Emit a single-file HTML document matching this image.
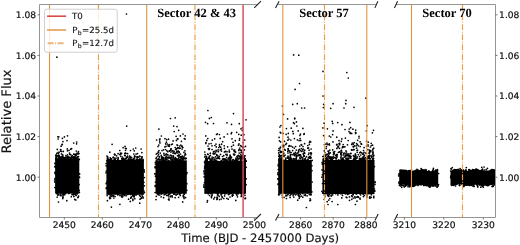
<!DOCTYPE html>
<html><head><meta charset="utf-8"><style>html,body{margin:0;padding:0;background:#fff;width:520px;height:245px;overflow:hidden}svg{display:block}text{text-rendering:geometricPrecision}</style></head>
<body><svg width="520" height="245" viewBox="0 0 520 245">
<rect width="520" height="245" fill="#fff"/>
<g fill="#000" style="filter:blur(0.3px)"><rect x="55.1" y="158.5" width="24.2" height="35.1"/><rect x="106.4" y="160" width="37.5" height="34.8"/><rect x="155.5" y="160.3" width="31.3" height="33.4"/><rect x="204.3" y="161" width="41.7" height="32.7"/><rect x="278.2" y="160" width="33.6" height="33.7"/><rect x="322.4" y="160" width="52.1" height="34"/><polygon points="399.2,169.7 400.7,169.3 402.2,169.5 403.7,169.6 405.2,169.7 406.7,169.7 408.2,170.9 409.7,170.5 411.2,171.5 412.7,170.8 414.2,170.2 415.7,170.2 417.2,169.6 418.7,170.2 420.2,169.7 421.7,169.5 423.2,169.3 424.7,169.8 426.2,170.4 427.7,170.9 429.2,170.7 430.7,171.2 432.2,170.9 433.7,170.9 435.2,169.8 436.7,169.3 438.2,169.9 438.2,184.9 436.7,185.4 435.2,186.4 433.7,186.4 432.2,186.5 430.7,186.4 429.2,187 427.7,186.5 426.2,186 424.7,186.1 423.2,185 421.7,185.4 420.2,185.5 418.7,185.1 417.2,185.6 415.7,185.7 414.2,186.9 412.7,187.2 411.2,186.8 409.7,186.7 408.2,185.8 406.7,185.8 405.2,185 403.7,184.8 402.2,184.8 400.7,185.5 399.2,186"/><polygon points="450.5,170.8 452,170.3 453.6,169.4 455.1,169 456.6,169 458.2,168.9 459.7,169.4 461.2,168.9 462.8,169.3 464.3,170.4 465.8,169.7 467.4,170.9 468.9,170.3 470.4,170.1 472,169.8 473.5,169.4 475.1,169.1 476.6,168.4 478.1,169 479.7,169.9 481.2,170 482.7,169.8 484.3,170.7 485.8,170.6 487.3,170.4 488.9,170.4 490.4,169.5 491.9,168.7 493.5,168.9 495,169.4 495,184.9 493.5,184.4 491.9,185.2 490.4,185.1 488.9,186.2 487.3,186.4 485.8,185.8 484.3,185.8 482.7,185.9 481.2,186.1 479.7,185.4 478.1,184.7 476.6,185.4 475.1,184.5 473.5,185.7 472,185.6 470.4,185.7 468.9,186.1 467.4,185.8 465.8,185.9 464.3,185.8 462.8,185.5 461.2,184.6 459.7,184.5 458.2,184.5 456.6,185 455.1,185.5 453.6,186.3 452,185.5 450.5,185.8"/><circle cx="58.6" cy="153.8" r="0.85"/><circle cx="73.4" cy="158.3" r="0.85"/><circle cx="67.1" cy="157.4" r="0.85"/><circle cx="70.7" cy="154.7" r="0.85"/><circle cx="57.7" cy="159.1" r="0.85"/><circle cx="75.1" cy="157.5" r="0.85"/><circle cx="73.3" cy="159.2" r="0.85"/><circle cx="65.9" cy="155.5" r="0.85"/><circle cx="60.9" cy="151.2" r="0.85"/><circle cx="76.6" cy="159.1" r="0.85"/><circle cx="56.1" cy="156.9" r="0.85"/><circle cx="77.5" cy="157.8" r="0.85"/><circle cx="60.6" cy="157.6" r="0.85"/><circle cx="56.2" cy="158.5" r="0.85"/><circle cx="65.7" cy="157.2" r="0.85"/><circle cx="61" cy="158.4" r="0.85"/><circle cx="60.6" cy="157.4" r="0.85"/><circle cx="62.3" cy="159.1" r="0.85"/><circle cx="75.1" cy="156.8" r="0.85"/><circle cx="70.5" cy="158.6" r="0.85"/><circle cx="78.7" cy="153.6" r="0.85"/><circle cx="58.3" cy="158" r="0.85"/><circle cx="72.4" cy="155.6" r="0.85"/><circle cx="77.4" cy="157.6" r="0.85"/><circle cx="74.9" cy="156" r="0.85"/><circle cx="62.6" cy="156.6" r="0.85"/><circle cx="76.2" cy="153.8" r="0.85"/><circle cx="67.3" cy="156.6" r="0.85"/><circle cx="56.3" cy="158.4" r="0.85"/><circle cx="74.2" cy="157.6" r="0.85"/><circle cx="59.5" cy="156.9" r="0.85"/><circle cx="72" cy="155.9" r="0.85"/><circle cx="64.3" cy="157.5" r="0.85"/><circle cx="67.4" cy="154.8" r="0.85"/><circle cx="67.7" cy="157.7" r="0.85"/><circle cx="67" cy="159.1" r="0.85"/><circle cx="56.5" cy="155.7" r="0.85"/><circle cx="78.5" cy="156.6" r="0.85"/><circle cx="64.7" cy="158.6" r="0.85"/><circle cx="67.3" cy="148.9" r="0.85"/><circle cx="73.5" cy="156.9" r="0.85"/><circle cx="75.6" cy="158.4" r="0.85"/><circle cx="67.5" cy="150.8" r="0.85"/><circle cx="69" cy="157.4" r="0.85"/><circle cx="61.8" cy="156.9" r="0.85"/><circle cx="77.9" cy="159.2" r="0.85"/><circle cx="73.8" cy="154.2" r="0.85"/><circle cx="76.2" cy="155.3" r="0.85"/><circle cx="74.4" cy="157.1" r="0.85"/><circle cx="68.6" cy="157.6" r="0.85"/><circle cx="56.8" cy="153.4" r="0.85"/><circle cx="68.8" cy="158.5" r="0.85"/><circle cx="67.3" cy="157.3" r="0.85"/><circle cx="63.8" cy="157.9" r="0.85"/><circle cx="68.1" cy="156.3" r="0.85"/><circle cx="69.8" cy="157.4" r="0.85"/><circle cx="56.2" cy="158.4" r="0.85"/><circle cx="59.6" cy="156.6" r="0.85"/><circle cx="75.6" cy="154.6" r="0.85"/><circle cx="74.2" cy="154.3" r="0.85"/><circle cx="61.5" cy="153.9" r="0.85"/><circle cx="71.3" cy="158.9" r="0.85"/><circle cx="55.9" cy="159.2" r="0.85"/><circle cx="73.2" cy="158.4" r="0.85"/><circle cx="58.1" cy="156.3" r="0.85"/><circle cx="63.6" cy="159" r="0.85"/><circle cx="59.2" cy="157" r="0.85"/><circle cx="59.4" cy="158.3" r="0.85"/><circle cx="72.2" cy="157.4" r="0.85"/><circle cx="63" cy="157.3" r="0.85"/><circle cx="56.1" cy="157.8" r="0.85"/><circle cx="65.3" cy="158.6" r="0.85"/><circle cx="58" cy="152.7" r="0.85"/><circle cx="67.4" cy="158.5" r="0.85"/><circle cx="69.7" cy="154.3" r="0.85"/><circle cx="56" cy="159.1" r="0.85"/><circle cx="58.9" cy="155.5" r="0.85"/><circle cx="59.2" cy="155.6" r="0.85"/><circle cx="71.4" cy="156.9" r="0.85"/><circle cx="60.7" cy="149.5" r="0.85"/><circle cx="74.2" cy="194.5" r="0.85"/><circle cx="60.7" cy="195.1" r="0.85"/><circle cx="64.7" cy="194.7" r="0.85"/><circle cx="63" cy="195" r="0.85"/><circle cx="56.9" cy="193.7" r="0.85"/><circle cx="78.1" cy="197.3" r="0.85"/><circle cx="62.7" cy="197" r="0.85"/><circle cx="62.8" cy="198.6" r="0.85"/><circle cx="72.9" cy="194.1" r="0.85"/><circle cx="61.4" cy="192.9" r="0.85"/><circle cx="76.1" cy="193" r="0.85"/><circle cx="74.7" cy="199.4" r="0.85"/><circle cx="68.8" cy="193.3" r="0.85"/><circle cx="75.8" cy="199.9" r="0.85"/><circle cx="72" cy="194.4" r="0.85"/><circle cx="64.3" cy="193.8" r="0.85"/><circle cx="60.3" cy="195.3" r="0.85"/><circle cx="65.6" cy="193.4" r="0.85"/><circle cx="57.9" cy="195.2" r="0.85"/><circle cx="62.4" cy="194.4" r="0.85"/><circle cx="63.1" cy="197.2" r="0.85"/><circle cx="76.6" cy="192.9" r="0.85"/><circle cx="60.2" cy="193.8" r="0.85"/><circle cx="78.6" cy="196.1" r="0.85"/><circle cx="63.4" cy="193.4" r="0.85"/><circle cx="71.3" cy="196.7" r="0.85"/><circle cx="77.3" cy="193.8" r="0.85"/><circle cx="76.1" cy="195.4" r="0.85"/><circle cx="66.8" cy="200.7" r="0.85"/><circle cx="61" cy="195.7" r="0.85"/><circle cx="57.5" cy="193.3" r="0.85"/><circle cx="76.8" cy="193.4" r="0.85"/><circle cx="73.3" cy="194.9" r="0.85"/><circle cx="75.2" cy="193.9" r="0.85"/><circle cx="63.5" cy="193.6" r="0.85"/><circle cx="75.8" cy="194.9" r="0.85"/><circle cx="77.8" cy="197.5" r="0.85"/><circle cx="58.7" cy="194.6" r="0.85"/><circle cx="57.9" cy="193" r="0.85"/><circle cx="57.2" cy="197.1" r="0.85"/><circle cx="73.9" cy="196.6" r="0.85"/><circle cx="63.5" cy="194.9" r="0.85"/><circle cx="73.8" cy="193.9" r="0.85"/><circle cx="68.9" cy="193.4" r="0.85"/><circle cx="57.4" cy="193.6" r="0.85"/><circle cx="76.3" cy="151" r="0.85"/><circle cx="77.1" cy="153" r="0.85"/><circle cx="62" cy="144.6" r="0.85"/><circle cx="74.9" cy="158.4" r="0.85"/><circle cx="71.2" cy="157.6" r="0.85"/><circle cx="58.2" cy="139" r="0.85"/><circle cx="56.4" cy="156" r="0.85"/><circle cx="78.6" cy="153.6" r="0.85"/><circle cx="58.2" cy="156.9" r="0.85"/><circle cx="61.1" cy="146.2" r="0.85"/><circle cx="57.9" cy="136.8" r="0.85"/><circle cx="64.4" cy="136.9" r="0.85"/><circle cx="62.4" cy="155.9" r="0.85"/><circle cx="66.7" cy="157.6" r="0.85"/><circle cx="70.8" cy="158.1" r="0.85"/><circle cx="55.7" cy="155.3" r="0.85"/><circle cx="69.5" cy="153.1" r="0.85"/><circle cx="62.8" cy="157.9" r="0.85"/><circle cx="76.9" cy="157.4" r="0.85"/><circle cx="60.5" cy="149.8" r="0.85"/><circle cx="78.4" cy="151.5" r="0.85"/><circle cx="71.6" cy="148.7" r="0.85"/><circle cx="61.6" cy="151.5" r="0.85"/><circle cx="62.7" cy="156" r="0.85"/><circle cx="57.4" cy="155.5" r="0.85"/><circle cx="78.5" cy="153.2" r="0.85"/><circle cx="70.8" cy="149.2" r="0.85"/><circle cx="77.5" cy="154" r="0.85"/><circle cx="62.7" cy="154.9" r="0.85"/><circle cx="62.9" cy="141.6" r="0.85"/><circle cx="76.4" cy="155.3" r="0.85"/><circle cx="63.3" cy="151.4" r="0.85"/><circle cx="69" cy="150.3" r="0.85"/><circle cx="61.2" cy="158.3" r="0.85"/><circle cx="61.2" cy="157.8" r="0.85"/><circle cx="68.4" cy="157.8" r="0.85"/><circle cx="57.3" cy="149.4" r="0.85"/><circle cx="62.3" cy="144.4" r="0.85"/><circle cx="67" cy="140.6" r="0.85"/><circle cx="59.1" cy="152.2" r="0.85"/><circle cx="74.1" cy="157.8" r="0.85"/><circle cx="77.7" cy="156.8" r="0.85"/><circle cx="73.7" cy="143" r="0.85"/><circle cx="63" cy="157.5" r="0.85"/><circle cx="67.5" cy="135.8" r="0.85"/><circle cx="62.4" cy="138.3" r="0.85"/><circle cx="58.8" cy="136.8" r="0.85"/><circle cx="56.2" cy="155.1" r="0.85"/><circle cx="76.6" cy="143.8" r="0.85"/><circle cx="76.7" cy="142" r="0.85"/><circle cx="79.1" cy="184.7" r="0.85"/><circle cx="55.2" cy="173.7" r="0.85"/><circle cx="54.7" cy="181.9" r="0.85"/><circle cx="79.4" cy="192.3" r="0.85"/><circle cx="79.4" cy="177.5" r="0.85"/><circle cx="54.8" cy="172.4" r="0.85"/><circle cx="79.3" cy="159.4" r="0.85"/><circle cx="54.9" cy="178.5" r="0.85"/><circle cx="54.8" cy="163.4" r="0.85"/><circle cx="54.9" cy="187.6" r="0.85"/><circle cx="54.6" cy="180" r="0.85"/><circle cx="79.5" cy="177.1" r="0.85"/><circle cx="79.6" cy="173.9" r="0.85"/><circle cx="55" cy="166.9" r="0.85"/><circle cx="55" cy="166.4" r="0.85"/><circle cx="79.2" cy="190.3" r="0.85"/><circle cx="141.9" cy="152.6" r="0.85"/><circle cx="108.9" cy="160.4" r="0.85"/><circle cx="137.5" cy="156.8" r="0.85"/><circle cx="131.4" cy="159.6" r="0.85"/><circle cx="129" cy="158" r="0.85"/><circle cx="128.1" cy="160.2" r="0.85"/><circle cx="122.6" cy="159.2" r="0.85"/><circle cx="133.3" cy="149" r="0.85"/><circle cx="141.6" cy="158.4" r="0.85"/><circle cx="123.1" cy="159.8" r="0.85"/><circle cx="108.1" cy="160.6" r="0.85"/><circle cx="123.9" cy="159.6" r="0.85"/><circle cx="120.7" cy="154.4" r="0.85"/><circle cx="126.1" cy="158.3" r="0.85"/><circle cx="115.5" cy="160.6" r="0.85"/><circle cx="118.7" cy="160.3" r="0.85"/><circle cx="125.5" cy="148.3" r="0.85"/><circle cx="131.6" cy="160.1" r="0.85"/><circle cx="139.6" cy="156.1" r="0.85"/><circle cx="133.8" cy="154" r="0.85"/><circle cx="134.8" cy="156.2" r="0.85"/><circle cx="119.8" cy="150.5" r="0.85"/><circle cx="142.1" cy="160.2" r="0.85"/><circle cx="134.5" cy="157" r="0.85"/><circle cx="123.7" cy="158.5" r="0.85"/><circle cx="124.8" cy="153.4" r="0.85"/><circle cx="125.2" cy="155.6" r="0.85"/><circle cx="119.8" cy="154.6" r="0.85"/><circle cx="139.8" cy="158.9" r="0.85"/><circle cx="127.6" cy="153.6" r="0.85"/><circle cx="133.4" cy="158.7" r="0.85"/><circle cx="114.9" cy="159.5" r="0.85"/><circle cx="132.5" cy="160.2" r="0.85"/><circle cx="140.1" cy="159.8" r="0.85"/><circle cx="140.2" cy="159.6" r="0.85"/><circle cx="141.9" cy="157.1" r="0.85"/><circle cx="125.3" cy="158.6" r="0.85"/><circle cx="130.7" cy="158.1" r="0.85"/><circle cx="118.2" cy="160" r="0.85"/><circle cx="125.6" cy="153.1" r="0.85"/><circle cx="129.7" cy="160.5" r="0.85"/><circle cx="136.9" cy="156.9" r="0.85"/><circle cx="140.1" cy="160.1" r="0.85"/><circle cx="134.1" cy="160.5" r="0.85"/><circle cx="130.8" cy="159.8" r="0.85"/><circle cx="115.1" cy="154.8" r="0.85"/><circle cx="110.7" cy="158.5" r="0.85"/><circle cx="138.1" cy="159.9" r="0.85"/><circle cx="114.5" cy="154.6" r="0.85"/><circle cx="122.3" cy="157" r="0.85"/><circle cx="108" cy="159.4" r="0.85"/><circle cx="113.1" cy="157.4" r="0.85"/><circle cx="109.8" cy="152.2" r="0.85"/><circle cx="107.7" cy="156.9" r="0.85"/><circle cx="107.6" cy="159.8" r="0.85"/><circle cx="136.7" cy="160.2" r="0.85"/><circle cx="113.5" cy="157.3" r="0.85"/><circle cx="121" cy="160.6" r="0.85"/><circle cx="143.1" cy="160.2" r="0.85"/><circle cx="108.1" cy="159.5" r="0.85"/><circle cx="129.4" cy="156.8" r="0.85"/><circle cx="111" cy="159.5" r="0.85"/><circle cx="107.9" cy="159" r="0.85"/><circle cx="134.9" cy="156.8" r="0.85"/><circle cx="139.9" cy="156.6" r="0.85"/><circle cx="138.5" cy="157.1" r="0.85"/><circle cx="124.2" cy="159.9" r="0.85"/><circle cx="131.1" cy="159.6" r="0.85"/><circle cx="110.5" cy="159" r="0.85"/><circle cx="138.9" cy="160.3" r="0.85"/><circle cx="128.3" cy="159.2" r="0.85"/><circle cx="125.7" cy="160.2" r="0.85"/><circle cx="142" cy="159.8" r="0.85"/><circle cx="129" cy="159.1" r="0.85"/><circle cx="107.5" cy="158.3" r="0.85"/><circle cx="112" cy="160.5" r="0.85"/><circle cx="108" cy="160.2" r="0.85"/><circle cx="110.3" cy="157.8" r="0.85"/><circle cx="125.5" cy="150.3" r="0.85"/><circle cx="141.1" cy="149" r="0.85"/><circle cx="115.3" cy="159" r="0.85"/><circle cx="116" cy="158.1" r="0.85"/><circle cx="129.7" cy="156" r="0.85"/><circle cx="132.8" cy="159.8" r="0.85"/><circle cx="122.3" cy="158.5" r="0.85"/><circle cx="107" cy="160.6" r="0.85"/><circle cx="121.8" cy="160.4" r="0.85"/><circle cx="133.4" cy="159.9" r="0.85"/><circle cx="110.5" cy="160.1" r="0.85"/><circle cx="115.3" cy="160" r="0.85"/><circle cx="125.9" cy="158.9" r="0.85"/><circle cx="118.2" cy="157.7" r="0.85"/><circle cx="114.6" cy="154" r="0.85"/><circle cx="142.1" cy="156.9" r="0.85"/><circle cx="122.7" cy="158.6" r="0.85"/><circle cx="128.1" cy="160.5" r="0.85"/><circle cx="122.1" cy="158.5" r="0.85"/><circle cx="113.5" cy="160.4" r="0.85"/><circle cx="136.3" cy="159.4" r="0.85"/><circle cx="125.9" cy="153.6" r="0.85"/><circle cx="129.2" cy="159.7" r="0.85"/><circle cx="142.9" cy="159.3" r="0.85"/><circle cx="107.5" cy="157.3" r="0.85"/><circle cx="110.5" cy="159.6" r="0.85"/><circle cx="137.7" cy="157.4" r="0.85"/><circle cx="107.4" cy="158.9" r="0.85"/><circle cx="121.9" cy="158.7" r="0.85"/><circle cx="114.4" cy="158.1" r="0.85"/><circle cx="109.5" cy="159.7" r="0.85"/><circle cx="120.5" cy="153.1" r="0.85"/><circle cx="109.6" cy="197.5" r="0.85"/><circle cx="113.9" cy="196.2" r="0.85"/><circle cx="121.2" cy="195.6" r="0.85"/><circle cx="134.5" cy="195.3" r="0.85"/><circle cx="111.3" cy="194.4" r="0.85"/><circle cx="109.8" cy="198.6" r="0.85"/><circle cx="130.3" cy="201.4" r="0.85"/><circle cx="132.2" cy="194.2" r="0.85"/><circle cx="131" cy="197.7" r="0.85"/><circle cx="133.4" cy="195.8" r="0.85"/><circle cx="119.9" cy="195.6" r="0.85"/><circle cx="136.1" cy="194.9" r="0.85"/><circle cx="126.1" cy="195.7" r="0.85"/><circle cx="141.8" cy="198" r="0.85"/><circle cx="141" cy="198.4" r="0.85"/><circle cx="117.7" cy="194.7" r="0.85"/><circle cx="124.7" cy="194.8" r="0.85"/><circle cx="122.5" cy="196.9" r="0.85"/><circle cx="140.5" cy="196.3" r="0.85"/><circle cx="136.8" cy="194.3" r="0.85"/><circle cx="119.9" cy="204.3" r="0.85"/><circle cx="112.2" cy="195.4" r="0.85"/><circle cx="109.3" cy="194.3" r="0.85"/><circle cx="139.7" cy="203.2" r="0.85"/><circle cx="130.6" cy="194.4" r="0.85"/><circle cx="117.7" cy="194.7" r="0.85"/><circle cx="131.4" cy="196.9" r="0.85"/><circle cx="122.9" cy="195.9" r="0.85"/><circle cx="110.9" cy="196" r="0.85"/><circle cx="141.7" cy="197.5" r="0.85"/><circle cx="110.3" cy="195.9" r="0.85"/><circle cx="133.1" cy="194.8" r="0.85"/><circle cx="139.6" cy="195.6" r="0.85"/><circle cx="132.6" cy="195.4" r="0.85"/><circle cx="143.3" cy="197.8" r="0.85"/><circle cx="127.8" cy="194.5" r="0.85"/><circle cx="123" cy="194.2" r="0.85"/><circle cx="128.6" cy="199.2" r="0.85"/><circle cx="113.4" cy="195.8" r="0.85"/><circle cx="124.5" cy="195.4" r="0.85"/><circle cx="132.9" cy="200.5" r="0.85"/><circle cx="132.7" cy="195.7" r="0.85"/><circle cx="142.1" cy="195.1" r="0.85"/><circle cx="134.2" cy="196.7" r="0.85"/><circle cx="134.8" cy="198.7" r="0.85"/><circle cx="115.1" cy="196.5" r="0.85"/><circle cx="121.6" cy="196.8" r="0.85"/><circle cx="142.7" cy="196.6" r="0.85"/><circle cx="107.2" cy="195.6" r="0.85"/><circle cx="132.9" cy="199.2" r="0.85"/><circle cx="130.7" cy="198.2" r="0.85"/><circle cx="107.4" cy="200.7" r="0.85"/><circle cx="133.6" cy="196.4" r="0.85"/><circle cx="140" cy="199.2" r="0.85"/><circle cx="110.5" cy="198.2" r="0.85"/><circle cx="134.9" cy="194.6" r="0.85"/><circle cx="134.1" cy="196.3" r="0.85"/><circle cx="113.8" cy="198" r="0.85"/><circle cx="111.9" cy="196.4" r="0.85"/><circle cx="122.7" cy="194.8" r="0.85"/><circle cx="127.6" cy="156.2" r="0.85"/><circle cx="114.3" cy="159.5" r="0.85"/><circle cx="106.9" cy="156" r="0.85"/><circle cx="137.5" cy="153.6" r="0.85"/><circle cx="134.5" cy="156" r="0.85"/><circle cx="131.6" cy="157.6" r="0.85"/><circle cx="116.6" cy="155.8" r="0.85"/><circle cx="107.8" cy="159.5" r="0.85"/><circle cx="134.5" cy="158.9" r="0.85"/><circle cx="134.3" cy="150.8" r="0.85"/><circle cx="121.6" cy="153.3" r="0.85"/><circle cx="135.7" cy="148" r="0.85"/><circle cx="111.7" cy="158.9" r="0.85"/><circle cx="120.8" cy="156.3" r="0.85"/><circle cx="117.6" cy="159.9" r="0.85"/><circle cx="127.3" cy="157.3" r="0.85"/><circle cx="126.5" cy="157.1" r="0.85"/><circle cx="123.1" cy="147.7" r="0.85"/><circle cx="118.1" cy="153.7" r="0.85"/><circle cx="124.6" cy="155.4" r="0.85"/><circle cx="140.4" cy="159.5" r="0.85"/><circle cx="137.1" cy="157.8" r="0.85"/><circle cx="130.5" cy="150.5" r="0.85"/><circle cx="130.8" cy="157" r="0.85"/><circle cx="137.7" cy="159.4" r="0.85"/><circle cx="130" cy="157" r="0.85"/><circle cx="126.3" cy="148.6" r="0.85"/><circle cx="136.1" cy="154.1" r="0.85"/><circle cx="118.1" cy="158.4" r="0.85"/><circle cx="123.6" cy="158.4" r="0.85"/><circle cx="143.7" cy="169.7" r="0.85"/><circle cx="106.2" cy="188.5" r="0.85"/><circle cx="106.3" cy="171.1" r="0.85"/><circle cx="106.1" cy="165.8" r="0.85"/><circle cx="144" cy="191.1" r="0.85"/><circle cx="143.9" cy="182.3" r="0.85"/><circle cx="106.1" cy="163.5" r="0.85"/><circle cx="106.2" cy="183.6" r="0.85"/><circle cx="106.5" cy="187.7" r="0.85"/><circle cx="106.6" cy="182" r="0.85"/><circle cx="144.3" cy="171.9" r="0.85"/><circle cx="144.4" cy="177.5" r="0.85"/><circle cx="144.3" cy="185.8" r="0.85"/><circle cx="144.4" cy="192.6" r="0.85"/><circle cx="144.1" cy="170.1" r="0.85"/><circle cx="106" cy="172.8" r="0.85"/><circle cx="163.2" cy="157.9" r="0.85"/><circle cx="167.2" cy="157.4" r="0.85"/><circle cx="175" cy="160.7" r="0.85"/><circle cx="156.3" cy="154" r="0.85"/><circle cx="163.8" cy="160" r="0.85"/><circle cx="186.3" cy="158.5" r="0.85"/><circle cx="181.4" cy="158.5" r="0.85"/><circle cx="175.4" cy="160.4" r="0.85"/><circle cx="175.3" cy="153.3" r="0.85"/><circle cx="171.9" cy="155.8" r="0.85"/><circle cx="176.4" cy="160.7" r="0.85"/><circle cx="179" cy="157.5" r="0.85"/><circle cx="165.1" cy="160.9" r="0.85"/><circle cx="182.3" cy="158.5" r="0.85"/><circle cx="177.8" cy="153" r="0.85"/><circle cx="177.7" cy="151.5" r="0.85"/><circle cx="167.9" cy="154.8" r="0.85"/><circle cx="169.5" cy="150.8" r="0.85"/><circle cx="182.7" cy="160.6" r="0.85"/><circle cx="160" cy="160" r="0.85"/><circle cx="185.3" cy="158.8" r="0.85"/><circle cx="175" cy="159.6" r="0.85"/><circle cx="171.4" cy="159.1" r="0.85"/><circle cx="166.6" cy="157.6" r="0.85"/><circle cx="173.7" cy="152.1" r="0.85"/><circle cx="176.7" cy="151.1" r="0.85"/><circle cx="182" cy="146.1" r="0.85"/><circle cx="176.4" cy="160.3" r="0.85"/><circle cx="182.1" cy="149" r="0.85"/><circle cx="183.5" cy="157.7" r="0.85"/><circle cx="177.7" cy="160.1" r="0.85"/><circle cx="181.3" cy="157.7" r="0.85"/><circle cx="164.6" cy="160.7" r="0.85"/><circle cx="181.9" cy="146.3" r="0.85"/><circle cx="158.6" cy="154.8" r="0.85"/><circle cx="168.4" cy="160.4" r="0.85"/><circle cx="164.9" cy="155.3" r="0.85"/><circle cx="182.5" cy="160.8" r="0.85"/><circle cx="174.6" cy="160.8" r="0.85"/><circle cx="177.8" cy="159.4" r="0.85"/><circle cx="182.8" cy="147.5" r="0.85"/><circle cx="171.3" cy="144.6" r="0.85"/><circle cx="165.3" cy="160.7" r="0.85"/><circle cx="174.2" cy="160.9" r="0.85"/><circle cx="161.9" cy="158.9" r="0.85"/><circle cx="174.5" cy="160.3" r="0.85"/><circle cx="157.2" cy="153.3" r="0.85"/><circle cx="165.5" cy="149.5" r="0.85"/><circle cx="183.2" cy="159.1" r="0.85"/><circle cx="169.9" cy="158.1" r="0.85"/><circle cx="175.5" cy="157.5" r="0.85"/><circle cx="173" cy="157.2" r="0.85"/><circle cx="184.6" cy="158.2" r="0.85"/><circle cx="169.1" cy="156.1" r="0.85"/><circle cx="163.1" cy="159.6" r="0.85"/><circle cx="185.7" cy="158.1" r="0.85"/><circle cx="172.6" cy="161" r="0.85"/><circle cx="168.6" cy="157.6" r="0.85"/><circle cx="156.5" cy="157.3" r="0.85"/><circle cx="175.2" cy="160.8" r="0.85"/><circle cx="175" cy="158.5" r="0.85"/><circle cx="176.6" cy="159.3" r="0.85"/><circle cx="177.5" cy="155.8" r="0.85"/><circle cx="156.6" cy="160.8" r="0.85"/><circle cx="176.5" cy="149.1" r="0.85"/><circle cx="163.6" cy="158.6" r="0.85"/><circle cx="174" cy="159.5" r="0.85"/><circle cx="167" cy="159.5" r="0.85"/><circle cx="167.2" cy="157.5" r="0.85"/><circle cx="165.1" cy="159.1" r="0.85"/><circle cx="179.5" cy="160.9" r="0.85"/><circle cx="173.3" cy="155.8" r="0.85"/><circle cx="165.4" cy="160" r="0.85"/><circle cx="180.4" cy="159.9" r="0.85"/><circle cx="161.6" cy="158.8" r="0.85"/><circle cx="177.2" cy="160.6" r="0.85"/><circle cx="165.7" cy="159.4" r="0.85"/><circle cx="181.3" cy="158.7" r="0.85"/><circle cx="182" cy="160.3" r="0.85"/><circle cx="166.2" cy="156.9" r="0.85"/><circle cx="182.9" cy="158.6" r="0.85"/><circle cx="162.8" cy="160.5" r="0.85"/><circle cx="172.1" cy="160.2" r="0.85"/><circle cx="180.5" cy="154" r="0.85"/><circle cx="161.5" cy="159.7" r="0.85"/><circle cx="180.5" cy="157" r="0.85"/><circle cx="180.5" cy="159.3" r="0.85"/><circle cx="159.9" cy="159.6" r="0.85"/><circle cx="180.1" cy="159.8" r="0.85"/><circle cx="166.5" cy="158.9" r="0.85"/><circle cx="168.7" cy="194.3" r="0.85"/><circle cx="184" cy="193.4" r="0.85"/><circle cx="156" cy="199.6" r="0.85"/><circle cx="182.7" cy="201.9" r="0.85"/><circle cx="169.1" cy="199.9" r="0.85"/><circle cx="184.2" cy="193.6" r="0.85"/><circle cx="178.6" cy="197.3" r="0.85"/><circle cx="176.1" cy="194.8" r="0.85"/><circle cx="164.7" cy="194" r="0.85"/><circle cx="162.8" cy="193.2" r="0.85"/><circle cx="173.9" cy="193.8" r="0.85"/><circle cx="180.6" cy="193.1" r="0.85"/><circle cx="183.5" cy="195.9" r="0.85"/><circle cx="184.1" cy="198.4" r="0.85"/><circle cx="183.3" cy="195.1" r="0.85"/><circle cx="156.3" cy="196.3" r="0.85"/><circle cx="161.1" cy="193.9" r="0.85"/><circle cx="176.1" cy="194.8" r="0.85"/><circle cx="168.5" cy="199.5" r="0.85"/><circle cx="174.6" cy="194" r="0.85"/><circle cx="163.6" cy="197.7" r="0.85"/><circle cx="170.5" cy="196.7" r="0.85"/><circle cx="166.6" cy="193.5" r="0.85"/><circle cx="172.2" cy="197.1" r="0.85"/><circle cx="161.1" cy="196.8" r="0.85"/><circle cx="184" cy="196.9" r="0.85"/><circle cx="181" cy="193" r="0.85"/><circle cx="175.1" cy="197.7" r="0.85"/><circle cx="157.4" cy="193.8" r="0.85"/><circle cx="164.1" cy="194.8" r="0.85"/><circle cx="168.8" cy="194.6" r="0.85"/><circle cx="179.6" cy="193" r="0.85"/><circle cx="157.6" cy="193.3" r="0.85"/><circle cx="159.7" cy="193.2" r="0.85"/><circle cx="185.6" cy="197.6" r="0.85"/><circle cx="158.5" cy="194.7" r="0.85"/><circle cx="165.5" cy="193.9" r="0.85"/><circle cx="166.6" cy="195.5" r="0.85"/><circle cx="173.8" cy="194.1" r="0.85"/><circle cx="161.7" cy="194" r="0.85"/><circle cx="159.7" cy="195" r="0.85"/><circle cx="177.7" cy="194.2" r="0.85"/><circle cx="158.3" cy="193.5" r="0.85"/><circle cx="167.3" cy="195.3" r="0.85"/><circle cx="179.8" cy="194.2" r="0.85"/><circle cx="180.3" cy="195.4" r="0.85"/><circle cx="169.1" cy="194.1" r="0.85"/><circle cx="171" cy="195.9" r="0.85"/><circle cx="168.7" cy="195.9" r="0.85"/><circle cx="170" cy="193.7" r="0.85"/><circle cx="172.2" cy="195.9" r="0.85"/><circle cx="158.1" cy="194.4" r="0.85"/><circle cx="168.9" cy="198" r="0.85"/><circle cx="184.5" cy="194.1" r="0.85"/><circle cx="183.3" cy="196.8" r="0.85"/><circle cx="163.9" cy="153.4" r="0.85"/><circle cx="159.7" cy="141.8" r="0.85"/><circle cx="176.1" cy="136.3" r="0.85"/><circle cx="180.1" cy="148.2" r="0.85"/><circle cx="178.3" cy="151.2" r="0.85"/><circle cx="159" cy="150.6" r="0.85"/><circle cx="156" cy="158.6" r="0.85"/><circle cx="179.5" cy="159.8" r="0.85"/><circle cx="158.7" cy="159.1" r="0.85"/><circle cx="182.8" cy="158.1" r="0.85"/><circle cx="156.6" cy="140" r="0.85"/><circle cx="159.6" cy="139.9" r="0.85"/><circle cx="176.4" cy="140.4" r="0.85"/><circle cx="184.9" cy="150.8" r="0.85"/><circle cx="180.3" cy="159.9" r="0.85"/><circle cx="179.3" cy="152.4" r="0.85"/><circle cx="177.7" cy="159.1" r="0.85"/><circle cx="178.7" cy="130.3" r="0.85"/><circle cx="157.8" cy="156" r="0.85"/><circle cx="173.1" cy="140.9" r="0.85"/><circle cx="163.3" cy="158.1" r="0.85"/><circle cx="163.5" cy="149.8" r="0.85"/><circle cx="178.9" cy="154.8" r="0.85"/><circle cx="167.1" cy="154.7" r="0.85"/><circle cx="166.6" cy="154.3" r="0.85"/><circle cx="158.4" cy="152.7" r="0.85"/><circle cx="185.6" cy="154.4" r="0.85"/><circle cx="178.7" cy="158.4" r="0.85"/><circle cx="177" cy="144.8" r="0.85"/><circle cx="176.5" cy="152.3" r="0.85"/><circle cx="170.7" cy="149" r="0.85"/><circle cx="183.3" cy="158.5" r="0.85"/><circle cx="158.8" cy="145.1" r="0.85"/><circle cx="183.9" cy="152.3" r="0.85"/><circle cx="169.4" cy="146.3" r="0.85"/><circle cx="161.6" cy="156.9" r="0.85"/><circle cx="162" cy="150.6" r="0.85"/><circle cx="165.5" cy="157.4" r="0.85"/><circle cx="177" cy="126.6" r="0.85"/><circle cx="164.9" cy="146.9" r="0.85"/><circle cx="168.5" cy="139.2" r="0.85"/><circle cx="173.7" cy="156.9" r="0.85"/><circle cx="162.5" cy="160" r="0.85"/><circle cx="170.5" cy="155" r="0.85"/><circle cx="161.2" cy="155.4" r="0.85"/><circle cx="165.7" cy="143.9" r="0.85"/><circle cx="160.3" cy="153.1" r="0.85"/><circle cx="174.2" cy="153.4" r="0.85"/><circle cx="181.4" cy="141.3" r="0.85"/><circle cx="172.9" cy="153.1" r="0.85"/><circle cx="177.9" cy="138.9" r="0.85"/><circle cx="168.1" cy="145.8" r="0.85"/><circle cx="185.2" cy="153.4" r="0.85"/><circle cx="162.9" cy="157.4" r="0.85"/><circle cx="177.8" cy="147.9" r="0.85"/><circle cx="185.1" cy="139.1" r="0.85"/><circle cx="163.3" cy="158" r="0.85"/><circle cx="163.8" cy="158" r="0.85"/><circle cx="177.4" cy="138.8" r="0.85"/><circle cx="183.3" cy="157.1" r="0.85"/><circle cx="182.3" cy="156.2" r="0.85"/><circle cx="168.8" cy="145.9" r="0.85"/><circle cx="158.5" cy="159.2" r="0.85"/><circle cx="181.3" cy="156.5" r="0.85"/><circle cx="166.8" cy="150.7" r="0.85"/><circle cx="176.5" cy="160.2" r="0.85"/><circle cx="166.1" cy="154" r="0.85"/><circle cx="170.7" cy="157.7" r="0.85"/><circle cx="173.7" cy="126.1" r="0.85"/><circle cx="167.8" cy="151.7" r="0.85"/><circle cx="159.5" cy="156.8" r="0.85"/><circle cx="176.2" cy="159" r="0.85"/><circle cx="183" cy="134" r="0.85"/><circle cx="158.9" cy="129.1" r="0.85"/><circle cx="167.3" cy="144" r="0.85"/><circle cx="179" cy="156.4" r="0.85"/><circle cx="176.5" cy="148.6" r="0.85"/><circle cx="180.5" cy="156.9" r="0.85"/><circle cx="178.9" cy="148" r="0.85"/><circle cx="172.3" cy="159" r="0.85"/><circle cx="171" cy="155.5" r="0.85"/><circle cx="177.8" cy="147.8" r="0.85"/><circle cx="173.2" cy="158.1" r="0.85"/><circle cx="175.6" cy="149.3" r="0.85"/><circle cx="161.4" cy="136" r="0.85"/><circle cx="175.9" cy="158.9" r="0.85"/><circle cx="184.3" cy="158.6" r="0.85"/><circle cx="166" cy="146.3" r="0.85"/><circle cx="174.1" cy="151.4" r="0.85"/><circle cx="175.6" cy="153.6" r="0.85"/><circle cx="165.4" cy="158.2" r="0.85"/><circle cx="158" cy="146.5" r="0.85"/><circle cx="178.9" cy="151.7" r="0.85"/><circle cx="178.5" cy="155.4" r="0.85"/><circle cx="164" cy="155" r="0.85"/><circle cx="182.5" cy="159.8" r="0.85"/><circle cx="171.3" cy="157.2" r="0.85"/><circle cx="179.4" cy="155.5" r="0.85"/><circle cx="166.1" cy="154.6" r="0.85"/><circle cx="172.4" cy="144.1" r="0.85"/><circle cx="166.7" cy="139.7" r="0.85"/><circle cx="159.3" cy="156.8" r="0.85"/><circle cx="158.9" cy="159" r="0.85"/><circle cx="179.7" cy="146" r="0.85"/><circle cx="161.5" cy="158" r="0.85"/><circle cx="168.6" cy="145.3" r="0.85"/><circle cx="180.8" cy="145.1" r="0.85"/><circle cx="174" cy="158.6" r="0.85"/><circle cx="168.1" cy="157.9" r="0.85"/><circle cx="172" cy="151.1" r="0.85"/><circle cx="162.1" cy="157.1" r="0.85"/><circle cx="179.7" cy="160" r="0.85"/><circle cx="180.4" cy="135.9" r="0.85"/><circle cx="184.9" cy="155" r="0.85"/><circle cx="172.8" cy="150.7" r="0.85"/><circle cx="175.2" cy="147.5" r="0.85"/><circle cx="165" cy="138.7" r="0.85"/><circle cx="170.7" cy="150.2" r="0.85"/><circle cx="178.1" cy="160.3" r="0.85"/><circle cx="179.4" cy="148.4" r="0.85"/><circle cx="170.9" cy="152.1" r="0.85"/><circle cx="169.9" cy="157.9" r="0.85"/><circle cx="172.1" cy="159.9" r="0.85"/><circle cx="171.2" cy="148.9" r="0.85"/><circle cx="169.4" cy="151.1" r="0.85"/><circle cx="185.2" cy="135.8" r="0.85"/><circle cx="160" cy="143" r="0.85"/><circle cx="174.9" cy="159.7" r="0.85"/><circle cx="166.9" cy="157.4" r="0.85"/><circle cx="158.3" cy="151.8" r="0.85"/><circle cx="184.3" cy="156" r="0.85"/><circle cx="182.5" cy="147.3" r="0.85"/><circle cx="160" cy="138.8" r="0.85"/><circle cx="174.2" cy="131.5" r="0.85"/><circle cx="177.7" cy="145.5" r="0.85"/><circle cx="166.4" cy="142.2" r="0.85"/><circle cx="184.3" cy="138.6" r="0.85"/><circle cx="169.2" cy="144.7" r="0.85"/><circle cx="170.7" cy="159" r="0.85"/><circle cx="157.2" cy="159.4" r="0.85"/><circle cx="155.4" cy="167" r="0.85"/><circle cx="186.8" cy="183.7" r="0.85"/><circle cx="155.4" cy="182" r="0.85"/><circle cx="155.1" cy="185.6" r="0.85"/><circle cx="186.8" cy="190.3" r="0.85"/><circle cx="187" cy="172.7" r="0.85"/><circle cx="155.2" cy="167.8" r="0.85"/><circle cx="155.4" cy="186.5" r="0.85"/><circle cx="155.1" cy="166.8" r="0.85"/><circle cx="155" cy="173.8" r="0.85"/><circle cx="155.4" cy="164" r="0.85"/><circle cx="155.4" cy="162.3" r="0.85"/><circle cx="186.5" cy="173.9" r="0.85"/><circle cx="155" cy="173.8" r="0.85"/><circle cx="155.1" cy="192.5" r="0.85"/><circle cx="155.5" cy="176.2" r="0.85"/><circle cx="214.4" cy="161.3" r="0.85"/><circle cx="220.9" cy="161" r="0.85"/><circle cx="207.4" cy="159.7" r="0.85"/><circle cx="242.2" cy="155.5" r="0.85"/><circle cx="236" cy="160.7" r="0.85"/><circle cx="226.7" cy="160.4" r="0.85"/><circle cx="211.8" cy="161.3" r="0.85"/><circle cx="213.5" cy="151.9" r="0.85"/><circle cx="238.6" cy="155.4" r="0.85"/><circle cx="237.4" cy="160.9" r="0.85"/><circle cx="217.4" cy="157.9" r="0.85"/><circle cx="234.6" cy="154.3" r="0.85"/><circle cx="240.7" cy="161.3" r="0.85"/><circle cx="229.5" cy="157.4" r="0.85"/><circle cx="225.4" cy="160.9" r="0.85"/><circle cx="224.1" cy="161.3" r="0.85"/><circle cx="242.9" cy="154" r="0.85"/><circle cx="227.1" cy="160.3" r="0.85"/><circle cx="241.9" cy="158.4" r="0.85"/><circle cx="240.8" cy="154.5" r="0.85"/><circle cx="225.5" cy="159.6" r="0.85"/><circle cx="229.2" cy="159.5" r="0.85"/><circle cx="211.3" cy="160.3" r="0.85"/><circle cx="237.9" cy="161.5" r="0.85"/><circle cx="206.6" cy="157.9" r="0.85"/><circle cx="216.2" cy="158.7" r="0.85"/><circle cx="224" cy="160.1" r="0.85"/><circle cx="245.5" cy="160.8" r="0.85"/><circle cx="221.6" cy="160.8" r="0.85"/><circle cx="230.6" cy="160.4" r="0.85"/><circle cx="219.3" cy="156.4" r="0.85"/><circle cx="217.8" cy="158.5" r="0.85"/><circle cx="241.7" cy="161.3" r="0.85"/><circle cx="207.2" cy="160.7" r="0.85"/><circle cx="236" cy="158" r="0.85"/><circle cx="214.4" cy="160.1" r="0.85"/><circle cx="212" cy="159.3" r="0.85"/><circle cx="206.5" cy="157.1" r="0.85"/><circle cx="241.3" cy="150.4" r="0.85"/><circle cx="234.8" cy="150.1" r="0.85"/><circle cx="205.4" cy="160.4" r="0.85"/><circle cx="244.2" cy="155.9" r="0.85"/><circle cx="221.5" cy="151.1" r="0.85"/><circle cx="230.1" cy="155.1" r="0.85"/><circle cx="216.7" cy="160.9" r="0.85"/><circle cx="222.9" cy="161.1" r="0.85"/><circle cx="220.3" cy="149.9" r="0.85"/><circle cx="218.3" cy="161.7" r="0.85"/><circle cx="206.5" cy="161" r="0.85"/><circle cx="236.8" cy="159.9" r="0.85"/><circle cx="216.6" cy="161.3" r="0.85"/><circle cx="244.9" cy="159.5" r="0.85"/><circle cx="213.2" cy="161.5" r="0.85"/><circle cx="207" cy="161" r="0.85"/><circle cx="232.4" cy="161.1" r="0.85"/><circle cx="206.4" cy="159.1" r="0.85"/><circle cx="214.9" cy="145.5" r="0.85"/><circle cx="209.7" cy="158.8" r="0.85"/><circle cx="236.3" cy="159.6" r="0.85"/><circle cx="245.1" cy="159.2" r="0.85"/><circle cx="214.6" cy="159.6" r="0.85"/><circle cx="206.2" cy="159.6" r="0.85"/><circle cx="214.9" cy="153.4" r="0.85"/><circle cx="238.7" cy="159" r="0.85"/><circle cx="206" cy="160.5" r="0.85"/><circle cx="214.6" cy="160.8" r="0.85"/><circle cx="214.2" cy="153.9" r="0.85"/><circle cx="210.5" cy="161.5" r="0.85"/><circle cx="242.7" cy="158.4" r="0.85"/><circle cx="245.2" cy="159.7" r="0.85"/><circle cx="241.5" cy="157.6" r="0.85"/><circle cx="237" cy="156.4" r="0.85"/><circle cx="224.9" cy="161.3" r="0.85"/><circle cx="213.3" cy="153.8" r="0.85"/><circle cx="241.5" cy="152" r="0.85"/><circle cx="218.5" cy="157.5" r="0.85"/><circle cx="237.4" cy="157.7" r="0.85"/><circle cx="238" cy="158.8" r="0.85"/><circle cx="231.5" cy="157.2" r="0.85"/><circle cx="215.7" cy="152.1" r="0.85"/><circle cx="243.8" cy="161.4" r="0.85"/><circle cx="244.4" cy="149.9" r="0.85"/><circle cx="232" cy="161.5" r="0.85"/><circle cx="241.5" cy="161.2" r="0.85"/><circle cx="244.3" cy="157.4" r="0.85"/><circle cx="207.2" cy="161" r="0.85"/><circle cx="230.7" cy="158.4" r="0.85"/><circle cx="235.2" cy="151.9" r="0.85"/><circle cx="213.6" cy="161.7" r="0.85"/><circle cx="242.4" cy="161.6" r="0.85"/><circle cx="240.5" cy="161.2" r="0.85"/><circle cx="237.8" cy="155.8" r="0.85"/><circle cx="240.6" cy="158.6" r="0.85"/><circle cx="240.6" cy="160.8" r="0.85"/><circle cx="232.2" cy="160.1" r="0.85"/><circle cx="241.2" cy="156" r="0.85"/><circle cx="224" cy="158.8" r="0.85"/><circle cx="205.8" cy="161.6" r="0.85"/><circle cx="229" cy="159.1" r="0.85"/><circle cx="240.1" cy="158" r="0.85"/><circle cx="210.4" cy="159.9" r="0.85"/><circle cx="236.1" cy="158.8" r="0.85"/><circle cx="205.1" cy="154.7" r="0.85"/><circle cx="238.5" cy="161.3" r="0.85"/><circle cx="226.9" cy="159.8" r="0.85"/><circle cx="236.9" cy="160.2" r="0.85"/><circle cx="214.3" cy="159.1" r="0.85"/><circle cx="244.2" cy="161.3" r="0.85"/><circle cx="209.4" cy="157.9" r="0.85"/><circle cx="240.9" cy="158.9" r="0.85"/><circle cx="222.4" cy="197.5" r="0.85"/><circle cx="236.5" cy="193.2" r="0.85"/><circle cx="240.7" cy="193.5" r="0.85"/><circle cx="217.1" cy="197.2" r="0.85"/><circle cx="222" cy="196.7" r="0.85"/><circle cx="211.5" cy="197.7" r="0.85"/><circle cx="211.9" cy="193.4" r="0.85"/><circle cx="224.9" cy="194" r="0.85"/><circle cx="226.9" cy="198.3" r="0.85"/><circle cx="233.8" cy="193" r="0.85"/><circle cx="217.5" cy="194.8" r="0.85"/><circle cx="224.6" cy="195.9" r="0.85"/><circle cx="224.5" cy="193.2" r="0.85"/><circle cx="214.7" cy="197.3" r="0.85"/><circle cx="219.3" cy="196.4" r="0.85"/><circle cx="245" cy="195.3" r="0.85"/><circle cx="232.4" cy="195.2" r="0.85"/><circle cx="217.5" cy="198.5" r="0.85"/><circle cx="223.8" cy="198.5" r="0.85"/><circle cx="217.2" cy="197.6" r="0.85"/><circle cx="236.9" cy="195.2" r="0.85"/><circle cx="222.8" cy="193.4" r="0.85"/><circle cx="236.2" cy="194.1" r="0.85"/><circle cx="231.8" cy="193.3" r="0.85"/><circle cx="208.1" cy="193.4" r="0.85"/><circle cx="237.8" cy="193.5" r="0.85"/><circle cx="241.6" cy="194.1" r="0.85"/><circle cx="228.3" cy="194" r="0.85"/><circle cx="230.1" cy="193.2" r="0.85"/><circle cx="221.2" cy="199.1" r="0.85"/><circle cx="212" cy="195.5" r="0.85"/><circle cx="218.1" cy="193.8" r="0.85"/><circle cx="205.6" cy="193" r="0.85"/><circle cx="243.5" cy="197.1" r="0.85"/><circle cx="237.5" cy="196.8" r="0.85"/><circle cx="243.7" cy="193.4" r="0.85"/><circle cx="228.6" cy="194.6" r="0.85"/><circle cx="228.2" cy="199.2" r="0.85"/><circle cx="235.8" cy="200.4" r="0.85"/><circle cx="209.5" cy="195.5" r="0.85"/><circle cx="232.3" cy="196.2" r="0.85"/><circle cx="230" cy="197.1" r="0.85"/><circle cx="217.1" cy="198.9" r="0.85"/><circle cx="221.3" cy="195.1" r="0.85"/><circle cx="241.4" cy="195.8" r="0.85"/><circle cx="217.4" cy="193.6" r="0.85"/><circle cx="218.1" cy="195.3" r="0.85"/><circle cx="245.5" cy="198.2" r="0.85"/><circle cx="221.1" cy="194.2" r="0.85"/><circle cx="238.1" cy="193.8" r="0.85"/><circle cx="221.5" cy="193" r="0.85"/><circle cx="212.2" cy="194.8" r="0.85"/><circle cx="233.1" cy="195.2" r="0.85"/><circle cx="219.6" cy="199.6" r="0.85"/><circle cx="230.2" cy="193.4" r="0.85"/><circle cx="207.5" cy="200.7" r="0.85"/><circle cx="245.1" cy="198.7" r="0.85"/><circle cx="229.4" cy="193.9" r="0.85"/><circle cx="208.4" cy="193.7" r="0.85"/><circle cx="213.8" cy="198.9" r="0.85"/><circle cx="241.2" cy="196.5" r="0.85"/><circle cx="210.8" cy="193.6" r="0.85"/><circle cx="216.9" cy="199.5" r="0.85"/><circle cx="211.4" cy="196.6" r="0.85"/><circle cx="232.5" cy="194.9" r="0.85"/><circle cx="243.9" cy="193.7" r="0.85"/><circle cx="226.1" cy="193.4" r="0.85"/><circle cx="208.7" cy="193.1" r="0.85"/><circle cx="217.6" cy="193.3" r="0.85"/><circle cx="207.2" cy="202.1" r="0.85"/><circle cx="216.5" cy="134.5" r="0.85"/><circle cx="233.4" cy="145.2" r="0.85"/><circle cx="231.5" cy="124.4" r="0.85"/><circle cx="240.6" cy="145.7" r="0.85"/><circle cx="227.6" cy="146.8" r="0.85"/><circle cx="234.3" cy="151.4" r="0.85"/><circle cx="225.3" cy="159" r="0.85"/><circle cx="239.2" cy="153.1" r="0.85"/><circle cx="207.5" cy="158.8" r="0.85"/><circle cx="240.5" cy="157.5" r="0.85"/><circle cx="220.7" cy="147.2" r="0.85"/><circle cx="239.9" cy="156.2" r="0.85"/><circle cx="220.5" cy="154.4" r="0.85"/><circle cx="205.8" cy="135.9" r="0.85"/><circle cx="205.5" cy="122.3" r="0.85"/><circle cx="210.9" cy="159" r="0.85"/><circle cx="239.4" cy="140.2" r="0.85"/><circle cx="214.2" cy="151.3" r="0.85"/><circle cx="224.2" cy="145.8" r="0.85"/><circle cx="212.3" cy="140.1" r="0.85"/><circle cx="245.5" cy="146.3" r="0.85"/><circle cx="242.4" cy="127.8" r="0.85"/><circle cx="220.2" cy="138.4" r="0.85"/><circle cx="238.8" cy="150.4" r="0.85"/><circle cx="209.1" cy="149.4" r="0.85"/><circle cx="242" cy="156.6" r="0.85"/><circle cx="231.2" cy="133.7" r="0.85"/><circle cx="229.2" cy="160.5" r="0.85"/><circle cx="230.5" cy="157.5" r="0.85"/><circle cx="239.8" cy="148" r="0.85"/><circle cx="217.3" cy="133.9" r="0.85"/><circle cx="230.3" cy="156" r="0.85"/><circle cx="238.8" cy="134.3" r="0.85"/><circle cx="241.2" cy="135.2" r="0.85"/><circle cx="231.6" cy="146.6" r="0.85"/><circle cx="229.4" cy="152" r="0.85"/><circle cx="245.1" cy="155.8" r="0.85"/><circle cx="208" cy="146" r="0.85"/><circle cx="225.1" cy="151.5" r="0.85"/><circle cx="229.2" cy="157.5" r="0.85"/><circle cx="212.9" cy="160.1" r="0.85"/><circle cx="236.7" cy="132.3" r="0.85"/><circle cx="233.2" cy="159.5" r="0.85"/><circle cx="244.7" cy="140" r="0.85"/><circle cx="225.5" cy="161" r="0.85"/><circle cx="239.2" cy="149.3" r="0.85"/><circle cx="230.2" cy="160.8" r="0.85"/><circle cx="234.7" cy="160.6" r="0.85"/><circle cx="224.3" cy="159.1" r="0.85"/><circle cx="219.4" cy="134.5" r="0.85"/><circle cx="235.3" cy="140.7" r="0.85"/><circle cx="216.9" cy="155.1" r="0.85"/><circle cx="229.4" cy="160.6" r="0.85"/><circle cx="221.6" cy="144.2" r="0.85"/><circle cx="240" cy="156.7" r="0.85"/><circle cx="233" cy="142.3" r="0.85"/><circle cx="233.5" cy="154.1" r="0.85"/><circle cx="211.9" cy="160.8" r="0.85"/><circle cx="241" cy="128.8" r="0.85"/><circle cx="216" cy="144.1" r="0.85"/><circle cx="221.4" cy="149.1" r="0.85"/><circle cx="239.1" cy="156.4" r="0.85"/><circle cx="230.1" cy="157.5" r="0.85"/><circle cx="225.6" cy="160.6" r="0.85"/><circle cx="215.5" cy="156.9" r="0.85"/><circle cx="242.1" cy="159.3" r="0.85"/><circle cx="235.7" cy="159.9" r="0.85"/><circle cx="245" cy="158.8" r="0.85"/><circle cx="208.5" cy="158.1" r="0.85"/><circle cx="242.9" cy="147.7" r="0.85"/><circle cx="241.1" cy="152.7" r="0.85"/><circle cx="209.4" cy="156" r="0.85"/><circle cx="223.3" cy="158.8" r="0.85"/><circle cx="214.7" cy="138.8" r="0.85"/><circle cx="209.4" cy="118.4" r="0.85"/><circle cx="216.8" cy="150.9" r="0.85"/><circle cx="231.7" cy="132.5" r="0.85"/><circle cx="207.8" cy="138.5" r="0.85"/><circle cx="212" cy="145.8" r="0.85"/><circle cx="205.8" cy="143.5" r="0.85"/><circle cx="212.1" cy="158.2" r="0.85"/><circle cx="206.1" cy="156.3" r="0.85"/><circle cx="218.1" cy="149.8" r="0.85"/><circle cx="219.6" cy="158.7" r="0.85"/><circle cx="213.5" cy="123.5" r="0.85"/><circle cx="243.6" cy="147.2" r="0.85"/><circle cx="244.7" cy="160.3" r="0.85"/><circle cx="241.7" cy="146.4" r="0.85"/><circle cx="232" cy="138.8" r="0.85"/><circle cx="209" cy="158.3" r="0.85"/><circle cx="210.3" cy="153.2" r="0.85"/><circle cx="227" cy="151.7" r="0.85"/><circle cx="219.5" cy="144.7" r="0.85"/><circle cx="239" cy="143.9" r="0.85"/><circle cx="206.2" cy="159" r="0.85"/><circle cx="213.7" cy="157.7" r="0.85"/><circle cx="228.2" cy="158.4" r="0.85"/><circle cx="230.2" cy="155.9" r="0.85"/><circle cx="219.6" cy="146.2" r="0.85"/><circle cx="243.3" cy="158.5" r="0.85"/><circle cx="218.9" cy="158.1" r="0.85"/><circle cx="205.8" cy="158.5" r="0.85"/><circle cx="238.5" cy="145.2" r="0.85"/><circle cx="243.1" cy="152.7" r="0.85"/><circle cx="206.4" cy="156.6" r="0.85"/><circle cx="234.1" cy="155" r="0.85"/><circle cx="210.4" cy="155.3" r="0.85"/><circle cx="223.7" cy="155.7" r="0.85"/><circle cx="223" cy="159.2" r="0.85"/><circle cx="205.9" cy="142.6" r="0.85"/><circle cx="234.6" cy="154.5" r="0.85"/><circle cx="209.4" cy="156.8" r="0.85"/><circle cx="227.5" cy="134" r="0.85"/><circle cx="224.4" cy="152" r="0.85"/><circle cx="212.1" cy="149.5" r="0.85"/><circle cx="229.2" cy="150" r="0.85"/><circle cx="234.3" cy="160.7" r="0.85"/><circle cx="222.6" cy="141.7" r="0.85"/><circle cx="210.4" cy="160.5" r="0.85"/><circle cx="212.2" cy="157" r="0.85"/><circle cx="222.5" cy="156.5" r="0.85"/><circle cx="230.6" cy="158.8" r="0.85"/><circle cx="218.8" cy="147.5" r="0.85"/><circle cx="227" cy="122.8" r="0.85"/><circle cx="243" cy="157.4" r="0.85"/><circle cx="218.4" cy="151.7" r="0.85"/><circle cx="227" cy="155.5" r="0.85"/><circle cx="240" cy="158.4" r="0.85"/><circle cx="224" cy="159.5" r="0.85"/><circle cx="240.8" cy="150.1" r="0.85"/><circle cx="245.1" cy="159.1" r="0.85"/><circle cx="233.8" cy="150.1" r="0.85"/><circle cx="206.8" cy="140.4" r="0.85"/><circle cx="240.5" cy="160" r="0.85"/><circle cx="243.2" cy="142.6" r="0.85"/><circle cx="229.4" cy="151.6" r="0.85"/><circle cx="215.5" cy="160.3" r="0.85"/><circle cx="224.1" cy="136.9" r="0.85"/><circle cx="213.3" cy="153.3" r="0.85"/><circle cx="216.3" cy="146.9" r="0.85"/><circle cx="243.9" cy="134.7" r="0.85"/><circle cx="216.5" cy="154.5" r="0.85"/><circle cx="204.8" cy="152" r="0.85"/><circle cx="239.6" cy="138.6" r="0.85"/><circle cx="207.6" cy="154.2" r="0.85"/><circle cx="208" cy="154.4" r="0.85"/><circle cx="242" cy="157" r="0.85"/><circle cx="239.3" cy="123.7" r="0.85"/><circle cx="238.2" cy="158.3" r="0.85"/><circle cx="242.3" cy="130.3" r="0.85"/><circle cx="245.5" cy="160.9" r="0.85"/><circle cx="204.8" cy="156.9" r="0.85"/><circle cx="225.9" cy="154.4" r="0.85"/><circle cx="208.5" cy="148.7" r="0.85"/><circle cx="232" cy="149.1" r="0.85"/><circle cx="225.6" cy="151.4" r="0.85"/><circle cx="232.9" cy="160.2" r="0.85"/><circle cx="222.5" cy="159.3" r="0.85"/><circle cx="209" cy="143.8" r="0.85"/><circle cx="218" cy="156" r="0.85"/><circle cx="216" cy="150.4" r="0.85"/><circle cx="209.5" cy="148.7" r="0.85"/><circle cx="207.6" cy="123.7" r="0.85"/><circle cx="211.1" cy="143.5" r="0.85"/><circle cx="227" cy="154.4" r="0.85"/><circle cx="217.1" cy="155.7" r="0.85"/><circle cx="235.7" cy="152.1" r="0.85"/><circle cx="226.6" cy="157.6" r="0.85"/><circle cx="230.3" cy="158.8" r="0.85"/><circle cx="224.4" cy="148.4" r="0.85"/><circle cx="246.2" cy="178.8" r="0.85"/><circle cx="246.2" cy="167.3" r="0.85"/><circle cx="246.1" cy="184.7" r="0.85"/><circle cx="204.1" cy="171.9" r="0.85"/><circle cx="204" cy="170.8" r="0.85"/><circle cx="204.1" cy="176.8" r="0.85"/><circle cx="204.5" cy="182.7" r="0.85"/><circle cx="204.5" cy="187.1" r="0.85"/><circle cx="204.6" cy="166.8" r="0.85"/><circle cx="204.5" cy="162.1" r="0.85"/><circle cx="246.1" cy="161.1" r="0.85"/><circle cx="204.6" cy="168.3" r="0.85"/><circle cx="204.2" cy="173.9" r="0.85"/><circle cx="203.9" cy="184.9" r="0.85"/><circle cx="203.8" cy="186.9" r="0.85"/><circle cx="246" cy="161.2" r="0.85"/><circle cx="299" cy="155.5" r="0.85"/><circle cx="304.7" cy="150.2" r="0.85"/><circle cx="302.9" cy="151.1" r="0.85"/><circle cx="279.6" cy="158.2" r="0.85"/><circle cx="309.5" cy="156.6" r="0.85"/><circle cx="308.1" cy="160.2" r="0.85"/><circle cx="294" cy="159.6" r="0.85"/><circle cx="296.4" cy="157.4" r="0.85"/><circle cx="279" cy="159.7" r="0.85"/><circle cx="287.8" cy="151.4" r="0.85"/><circle cx="303.7" cy="160" r="0.85"/><circle cx="304.7" cy="160.1" r="0.85"/><circle cx="298.9" cy="160.2" r="0.85"/><circle cx="278.7" cy="152.9" r="0.85"/><circle cx="285.5" cy="159.7" r="0.85"/><circle cx="310.8" cy="152.9" r="0.85"/><circle cx="288.1" cy="148.9" r="0.85"/><circle cx="296.3" cy="156.3" r="0.85"/><circle cx="285.3" cy="150.2" r="0.85"/><circle cx="301.3" cy="148.5" r="0.85"/><circle cx="307.9" cy="159.3" r="0.85"/><circle cx="290.4" cy="160" r="0.85"/><circle cx="283.4" cy="160.4" r="0.85"/><circle cx="288.5" cy="157.1" r="0.85"/><circle cx="278.7" cy="156.3" r="0.85"/><circle cx="289.7" cy="159.2" r="0.85"/><circle cx="305.4" cy="158.1" r="0.85"/><circle cx="289" cy="158.1" r="0.85"/><circle cx="301.7" cy="160.5" r="0.85"/><circle cx="310.6" cy="160.6" r="0.85"/><circle cx="303.2" cy="153.6" r="0.85"/><circle cx="279.2" cy="154.7" r="0.85"/><circle cx="290.6" cy="157.3" r="0.85"/><circle cx="278.9" cy="160.5" r="0.85"/><circle cx="284.5" cy="149.4" r="0.85"/><circle cx="285" cy="155.2" r="0.85"/><circle cx="309.1" cy="150.2" r="0.85"/><circle cx="289.9" cy="159" r="0.85"/><circle cx="295.8" cy="154.9" r="0.85"/><circle cx="282.1" cy="155.4" r="0.85"/><circle cx="304.7" cy="153.2" r="0.85"/><circle cx="279.8" cy="150" r="0.85"/><circle cx="281.6" cy="159.1" r="0.85"/><circle cx="298.6" cy="151.3" r="0.85"/><circle cx="289.8" cy="151.1" r="0.85"/><circle cx="296.5" cy="159.2" r="0.85"/><circle cx="289" cy="159.9" r="0.85"/><circle cx="281.2" cy="160.1" r="0.85"/><circle cx="301.2" cy="144.7" r="0.85"/><circle cx="283.9" cy="160.5" r="0.85"/><circle cx="311" cy="157.7" r="0.85"/><circle cx="291.9" cy="159.6" r="0.85"/><circle cx="298.1" cy="154" r="0.85"/><circle cx="293.5" cy="158.6" r="0.85"/><circle cx="280.4" cy="151.4" r="0.85"/><circle cx="279.7" cy="158" r="0.85"/><circle cx="306.1" cy="160.1" r="0.85"/><circle cx="302.6" cy="149.7" r="0.85"/><circle cx="299.3" cy="154.7" r="0.85"/><circle cx="282.1" cy="158.5" r="0.85"/><circle cx="283.5" cy="153.6" r="0.85"/><circle cx="288.3" cy="158.3" r="0.85"/><circle cx="311.4" cy="153.4" r="0.85"/><circle cx="310.6" cy="158.3" r="0.85"/><circle cx="294.6" cy="155.6" r="0.85"/><circle cx="294.3" cy="159.3" r="0.85"/><circle cx="291.8" cy="160.1" r="0.85"/><circle cx="291" cy="146.2" r="0.85"/><circle cx="310.1" cy="156.9" r="0.85"/><circle cx="295" cy="159.1" r="0.85"/><circle cx="281.5" cy="159.5" r="0.85"/><circle cx="304.3" cy="153" r="0.85"/><circle cx="290.5" cy="154.7" r="0.85"/><circle cx="304" cy="156.1" r="0.85"/><circle cx="300.4" cy="155.2" r="0.85"/><circle cx="290.5" cy="156" r="0.85"/><circle cx="287.8" cy="158.1" r="0.85"/><circle cx="303.8" cy="156.1" r="0.85"/><circle cx="288.2" cy="150" r="0.85"/><circle cx="299.9" cy="157.3" r="0.85"/><circle cx="279" cy="194.9" r="0.85"/><circle cx="286.8" cy="195.7" r="0.85"/><circle cx="293.8" cy="197.1" r="0.85"/><circle cx="299.8" cy="196.9" r="0.85"/><circle cx="290" cy="195.5" r="0.85"/><circle cx="302.8" cy="197.2" r="0.85"/><circle cx="290.1" cy="197.4" r="0.85"/><circle cx="307.1" cy="195.8" r="0.85"/><circle cx="310.6" cy="200.1" r="0.85"/><circle cx="295.6" cy="194.8" r="0.85"/><circle cx="284.1" cy="197.3" r="0.85"/><circle cx="309.3" cy="194.6" r="0.85"/><circle cx="301.3" cy="196.1" r="0.85"/><circle cx="302.6" cy="193.5" r="0.85"/><circle cx="304.2" cy="195.1" r="0.85"/><circle cx="300.4" cy="194.3" r="0.85"/><circle cx="299.1" cy="196.6" r="0.85"/><circle cx="299.5" cy="196.1" r="0.85"/><circle cx="279.5" cy="193.4" r="0.85"/><circle cx="293.1" cy="195.6" r="0.85"/><circle cx="285.8" cy="195.8" r="0.85"/><circle cx="299.3" cy="193.1" r="0.85"/><circle cx="294.1" cy="193.6" r="0.85"/><circle cx="280.4" cy="193.4" r="0.85"/><circle cx="289" cy="193.5" r="0.85"/><circle cx="284.9" cy="193.1" r="0.85"/><circle cx="293.9" cy="194.2" r="0.85"/><circle cx="298.7" cy="195.2" r="0.85"/><circle cx="286.4" cy="198.5" r="0.85"/><circle cx="278.6" cy="194.3" r="0.85"/><circle cx="287.7" cy="194.3" r="0.85"/><circle cx="282.4" cy="197.3" r="0.85"/><circle cx="290.9" cy="193.1" r="0.85"/><circle cx="298.7" cy="193.2" r="0.85"/><circle cx="296.5" cy="194" r="0.85"/><circle cx="297.7" cy="200.2" r="0.85"/><circle cx="305.4" cy="194.3" r="0.85"/><circle cx="305.3" cy="195.5" r="0.85"/><circle cx="290.7" cy="193.4" r="0.85"/><circle cx="298.1" cy="195" r="0.85"/><circle cx="310" cy="200.7" r="0.85"/><circle cx="298.6" cy="194.1" r="0.85"/><circle cx="307.9" cy="193" r="0.85"/><circle cx="282.1" cy="195" r="0.85"/><circle cx="298.8" cy="193.4" r="0.85"/><circle cx="299.2" cy="198.3" r="0.85"/><circle cx="290.9" cy="194.4" r="0.85"/><circle cx="286" cy="193.8" r="0.85"/><circle cx="310.5" cy="194.2" r="0.85"/><circle cx="310.1" cy="198.8" r="0.85"/><circle cx="298.1" cy="193.7" r="0.85"/><circle cx="310.8" cy="194.7" r="0.85"/><circle cx="292.2" cy="193.9" r="0.85"/><circle cx="310.9" cy="194.7" r="0.85"/><circle cx="288" cy="194.6" r="0.85"/><circle cx="282.6" cy="145.4" r="0.85"/><circle cx="293.1" cy="154.8" r="0.85"/><circle cx="304.2" cy="133.7" r="0.85"/><circle cx="279" cy="148.6" r="0.85"/><circle cx="287.6" cy="118.9" r="0.85"/><circle cx="304.2" cy="155.8" r="0.85"/><circle cx="287.4" cy="157.5" r="0.85"/><circle cx="311" cy="154.8" r="0.85"/><circle cx="298.5" cy="150.3" r="0.85"/><circle cx="299.8" cy="146.1" r="0.85"/><circle cx="303" cy="158.1" r="0.85"/><circle cx="303.5" cy="154.6" r="0.85"/><circle cx="296.1" cy="153.9" r="0.85"/><circle cx="288.3" cy="148.7" r="0.85"/><circle cx="293.8" cy="153.3" r="0.85"/><circle cx="303" cy="146.6" r="0.85"/><circle cx="279.8" cy="155.6" r="0.85"/><circle cx="293.5" cy="122.7" r="0.85"/><circle cx="307.7" cy="148.2" r="0.85"/><circle cx="279.1" cy="137.4" r="0.85"/><circle cx="292.6" cy="147.1" r="0.85"/><circle cx="301.8" cy="145" r="0.85"/><circle cx="294.4" cy="123.6" r="0.85"/><circle cx="291.2" cy="152.5" r="0.85"/><circle cx="306.5" cy="156.7" r="0.85"/><circle cx="288.3" cy="133.4" r="0.85"/><circle cx="280.8" cy="132.9" r="0.85"/><circle cx="301.4" cy="151.5" r="0.85"/><circle cx="288" cy="137.2" r="0.85"/><circle cx="308.5" cy="157.7" r="0.85"/><circle cx="294.3" cy="148.1" r="0.85"/><circle cx="294.9" cy="154" r="0.85"/><circle cx="283.6" cy="146.8" r="0.85"/><circle cx="305.2" cy="158.9" r="0.85"/><circle cx="286.1" cy="134.3" r="0.85"/><circle cx="304.6" cy="143.7" r="0.85"/><circle cx="279.4" cy="140.8" r="0.85"/><circle cx="310.7" cy="141.9" r="0.85"/><circle cx="280.2" cy="132.3" r="0.85"/><circle cx="285.8" cy="144.4" r="0.85"/><circle cx="309.8" cy="141.3" r="0.85"/><circle cx="283" cy="154.8" r="0.85"/><circle cx="308.7" cy="157.6" r="0.85"/><circle cx="298.6" cy="152" r="0.85"/><circle cx="283.9" cy="145.4" r="0.85"/><circle cx="280" cy="158.3" r="0.85"/><circle cx="291" cy="158.9" r="0.85"/><circle cx="280.5" cy="147.2" r="0.85"/><circle cx="302.9" cy="128.4" r="0.85"/><circle cx="283" cy="151.5" r="0.85"/><circle cx="288.9" cy="146.2" r="0.85"/><circle cx="294.7" cy="118.2" r="0.85"/><circle cx="290.9" cy="159.1" r="0.85"/><circle cx="301.5" cy="157.5" r="0.85"/><circle cx="299.3" cy="149.4" r="0.85"/><circle cx="308.5" cy="147.9" r="0.85"/><circle cx="299" cy="155.4" r="0.85"/><circle cx="296.7" cy="155.6" r="0.85"/><circle cx="303.2" cy="149.1" r="0.85"/><circle cx="283" cy="156" r="0.85"/><circle cx="290.8" cy="140" r="0.85"/><circle cx="284.5" cy="141.3" r="0.85"/><circle cx="300.1" cy="158.7" r="0.85"/><circle cx="300.5" cy="158.6" r="0.85"/><circle cx="282.7" cy="146.5" r="0.85"/><circle cx="286.4" cy="128.6" r="0.85"/><circle cx="294.4" cy="154.1" r="0.85"/><circle cx="304.7" cy="159.6" r="0.85"/><circle cx="302.4" cy="159.2" r="0.85"/><circle cx="283.5" cy="114.4" r="0.85"/><circle cx="300.9" cy="156.2" r="0.85"/><circle cx="282.4" cy="106" r="0.85"/><circle cx="300.4" cy="134.2" r="0.85"/><circle cx="283.2" cy="145.3" r="0.85"/><circle cx="290.2" cy="156" r="0.85"/><circle cx="289.5" cy="145.7" r="0.85"/><circle cx="290" cy="152.7" r="0.85"/><circle cx="283.1" cy="133.3" r="0.85"/><circle cx="299.9" cy="135.5" r="0.85"/><circle cx="292.8" cy="131.4" r="0.85"/><circle cx="295.6" cy="146.5" r="0.85"/><circle cx="297.4" cy="139.8" r="0.85"/><circle cx="291.6" cy="158.5" r="0.85"/><circle cx="279.7" cy="156.6" r="0.85"/><circle cx="279.9" cy="127" r="0.85"/><circle cx="294.4" cy="138.6" r="0.85"/><circle cx="278.6" cy="150.5" r="0.85"/><circle cx="307.8" cy="145.5" r="0.85"/><circle cx="292.7" cy="150.6" r="0.85"/><circle cx="281.9" cy="157.5" r="0.85"/><circle cx="283.8" cy="153" r="0.85"/><circle cx="291.2" cy="128.2" r="0.85"/><circle cx="283.6" cy="155.6" r="0.85"/><circle cx="287.7" cy="157.4" r="0.85"/><circle cx="288" cy="156" r="0.85"/><circle cx="294.4" cy="159.5" r="0.85"/><circle cx="308.9" cy="153.1" r="0.85"/><circle cx="309.4" cy="142.5" r="0.85"/><circle cx="300.7" cy="150.4" r="0.85"/><circle cx="309.6" cy="158.1" r="0.85"/><circle cx="300.5" cy="154.8" r="0.85"/><circle cx="300.7" cy="140.4" r="0.85"/><circle cx="284" cy="156.6" r="0.85"/><circle cx="279.4" cy="156.1" r="0.85"/><circle cx="281.2" cy="152.3" r="0.85"/><circle cx="310.5" cy="153.2" r="0.85"/><circle cx="288.8" cy="150.5" r="0.85"/><circle cx="287.9" cy="140.2" r="0.85"/><circle cx="302.1" cy="157.3" r="0.85"/><circle cx="286.5" cy="143.3" r="0.85"/><circle cx="309.4" cy="144.4" r="0.85"/><circle cx="292.7" cy="104.4" r="0.85"/><circle cx="278.8" cy="159.1" r="0.85"/><circle cx="304.2" cy="152.1" r="0.85"/><circle cx="280.1" cy="148.1" r="0.85"/><circle cx="311.1" cy="149" r="0.85"/><circle cx="290.1" cy="158.5" r="0.85"/><circle cx="280.9" cy="125.6" r="0.85"/><circle cx="294.7" cy="118.8" r="0.85"/><circle cx="280.4" cy="155.8" r="0.85"/><circle cx="280.3" cy="152.4" r="0.85"/><circle cx="280.6" cy="155.6" r="0.85"/><circle cx="292" cy="154.5" r="0.85"/><circle cx="280.3" cy="159.4" r="0.85"/><circle cx="310.5" cy="157" r="0.85"/><circle cx="295.3" cy="152.3" r="0.85"/><circle cx="296" cy="158.7" r="0.85"/><circle cx="288.9" cy="158.3" r="0.85"/><circle cx="296.4" cy="121.9" r="0.85"/><circle cx="298.2" cy="130.9" r="0.85"/><circle cx="285.6" cy="159.7" r="0.85"/><circle cx="296.3" cy="150" r="0.85"/><circle cx="297.3" cy="152.9" r="0.85"/><circle cx="299.1" cy="140.6" r="0.85"/><circle cx="308.5" cy="154.5" r="0.85"/><circle cx="293.3" cy="133.7" r="0.85"/><circle cx="285.9" cy="158.2" r="0.85"/><circle cx="288.8" cy="158.6" r="0.85"/><circle cx="303.9" cy="134.3" r="0.85"/><circle cx="288.9" cy="157.9" r="0.85"/><circle cx="281.3" cy="155.8" r="0.85"/><circle cx="281.4" cy="151.6" r="0.85"/><circle cx="297.5" cy="155.8" r="0.85"/><circle cx="280.6" cy="141.9" r="0.85"/><circle cx="280.2" cy="156.7" r="0.85"/><circle cx="288" cy="153" r="0.85"/><circle cx="281.8" cy="151.8" r="0.85"/><circle cx="288.9" cy="139.1" r="0.85"/><circle cx="296.8" cy="126" r="0.85"/><circle cx="300.1" cy="138.6" r="0.85"/><circle cx="278.4" cy="179.4" r="0.85"/><circle cx="312.1" cy="182.1" r="0.85"/><circle cx="278.3" cy="183.6" r="0.85"/><circle cx="277.8" cy="172.9" r="0.85"/><circle cx="278.2" cy="165.7" r="0.85"/><circle cx="278.3" cy="169.6" r="0.85"/><circle cx="277.7" cy="178.8" r="0.85"/><circle cx="278.4" cy="164.4" r="0.85"/><circle cx="311.7" cy="192" r="0.85"/><circle cx="278" cy="174.5" r="0.85"/><circle cx="312.2" cy="160.4" r="0.85"/><circle cx="278.1" cy="184.5" r="0.85"/><circle cx="311.9" cy="165.8" r="0.85"/><circle cx="311.6" cy="191.6" r="0.85"/><circle cx="311.9" cy="170.7" r="0.85"/><circle cx="278.3" cy="174.6" r="0.85"/><circle cx="363.5" cy="154.1" r="0.85"/><circle cx="347.7" cy="159.5" r="0.85"/><circle cx="322.8" cy="156.5" r="0.85"/><circle cx="346.9" cy="155.2" r="0.85"/><circle cx="341.9" cy="155" r="0.85"/><circle cx="336.8" cy="154.5" r="0.85"/><circle cx="360.2" cy="158.6" r="0.85"/><circle cx="350.4" cy="156.2" r="0.85"/><circle cx="332.7" cy="157.5" r="0.85"/><circle cx="364.1" cy="159.5" r="0.85"/><circle cx="364" cy="156.2" r="0.85"/><circle cx="366.1" cy="159.1" r="0.85"/><circle cx="327.6" cy="154.5" r="0.85"/><circle cx="364.1" cy="158.4" r="0.85"/><circle cx="327.6" cy="159.8" r="0.85"/><circle cx="355.4" cy="159.3" r="0.85"/><circle cx="371.6" cy="157.2" r="0.85"/><circle cx="333.1" cy="156.6" r="0.85"/><circle cx="341.3" cy="150.7" r="0.85"/><circle cx="369.5" cy="157.9" r="0.85"/><circle cx="355.9" cy="156" r="0.85"/><circle cx="364.1" cy="147.6" r="0.85"/><circle cx="324.3" cy="158.9" r="0.85"/><circle cx="353.7" cy="159.3" r="0.85"/><circle cx="353" cy="160.3" r="0.85"/><circle cx="367.9" cy="157.8" r="0.85"/><circle cx="328.8" cy="156.5" r="0.85"/><circle cx="338.8" cy="159.8" r="0.85"/><circle cx="347.6" cy="160.1" r="0.85"/><circle cx="333.6" cy="153" r="0.85"/><circle cx="358.6" cy="160.7" r="0.85"/><circle cx="362.7" cy="160.6" r="0.85"/><circle cx="339.9" cy="151.8" r="0.85"/><circle cx="354.6" cy="159.3" r="0.85"/><circle cx="342.2" cy="158.8" r="0.85"/><circle cx="329.3" cy="143.9" r="0.85"/><circle cx="325.6" cy="158.5" r="0.85"/><circle cx="361.1" cy="158.7" r="0.85"/><circle cx="373.1" cy="159.6" r="0.85"/><circle cx="373" cy="152.3" r="0.85"/><circle cx="357.2" cy="152.3" r="0.85"/><circle cx="345.7" cy="153.9" r="0.85"/><circle cx="363.6" cy="157.9" r="0.85"/><circle cx="347" cy="155.9" r="0.85"/><circle cx="343.8" cy="160.3" r="0.85"/><circle cx="361.1" cy="159.5" r="0.85"/><circle cx="347.8" cy="154.8" r="0.85"/><circle cx="331.6" cy="160.6" r="0.85"/><circle cx="329.1" cy="157.2" r="0.85"/><circle cx="341.3" cy="159.5" r="0.85"/><circle cx="346" cy="150.9" r="0.85"/><circle cx="335.9" cy="158.6" r="0.85"/><circle cx="367.9" cy="157" r="0.85"/><circle cx="336.5" cy="158.2" r="0.85"/><circle cx="347.3" cy="160.1" r="0.85"/><circle cx="342.2" cy="159.3" r="0.85"/><circle cx="364.1" cy="159.2" r="0.85"/><circle cx="356.6" cy="148.2" r="0.85"/><circle cx="370.2" cy="158.8" r="0.85"/><circle cx="353.7" cy="159.2" r="0.85"/><circle cx="343.2" cy="158.1" r="0.85"/><circle cx="363.5" cy="150.5" r="0.85"/><circle cx="337.7" cy="160.7" r="0.85"/><circle cx="345.9" cy="160.5" r="0.85"/><circle cx="324.3" cy="155" r="0.85"/><circle cx="328.6" cy="155.8" r="0.85"/><circle cx="341.4" cy="150.4" r="0.85"/><circle cx="366.6" cy="160.4" r="0.85"/><circle cx="332.7" cy="149.9" r="0.85"/><circle cx="354.3" cy="158.6" r="0.85"/><circle cx="362.9" cy="154.2" r="0.85"/><circle cx="348" cy="158.2" r="0.85"/><circle cx="327.9" cy="158.9" r="0.85"/><circle cx="330.2" cy="156.9" r="0.85"/><circle cx="353.9" cy="160.1" r="0.85"/><circle cx="355" cy="160.3" r="0.85"/><circle cx="328.2" cy="156.7" r="0.85"/><circle cx="346.5" cy="152" r="0.85"/><circle cx="355.1" cy="156" r="0.85"/><circle cx="329.3" cy="153.8" r="0.85"/><circle cx="327.1" cy="156.9" r="0.85"/><circle cx="369.6" cy="151.7" r="0.85"/><circle cx="368.6" cy="158.3" r="0.85"/><circle cx="358.4" cy="154.7" r="0.85"/><circle cx="329.8" cy="150.1" r="0.85"/><circle cx="369.4" cy="158.4" r="0.85"/><circle cx="362.7" cy="158.4" r="0.85"/><circle cx="337" cy="155.9" r="0.85"/><circle cx="326.1" cy="154.5" r="0.85"/><circle cx="373" cy="159.4" r="0.85"/><circle cx="371" cy="160.4" r="0.85"/><circle cx="366.8" cy="159.4" r="0.85"/><circle cx="372.4" cy="158.5" r="0.85"/><circle cx="370.1" cy="160.6" r="0.85"/><circle cx="327.2" cy="154.2" r="0.85"/><circle cx="355.6" cy="157.7" r="0.85"/><circle cx="324.5" cy="160" r="0.85"/><circle cx="341.8" cy="160.5" r="0.85"/><circle cx="373.7" cy="155.1" r="0.85"/><circle cx="371.5" cy="156" r="0.85"/><circle cx="340.4" cy="160.4" r="0.85"/><circle cx="360.3" cy="160.2" r="0.85"/><circle cx="350.9" cy="158.3" r="0.85"/><circle cx="348.2" cy="160.4" r="0.85"/><circle cx="326.6" cy="157.8" r="0.85"/><circle cx="324.4" cy="157.8" r="0.85"/><circle cx="330.5" cy="159.4" r="0.85"/><circle cx="330.5" cy="157.4" r="0.85"/><circle cx="342.7" cy="159.7" r="0.85"/><circle cx="334.2" cy="157.5" r="0.85"/><circle cx="369.5" cy="158.6" r="0.85"/><circle cx="331.2" cy="159.2" r="0.85"/><circle cx="335.1" cy="157.4" r="0.85"/><circle cx="363.1" cy="157.4" r="0.85"/><circle cx="332.5" cy="159.2" r="0.85"/><circle cx="342.3" cy="158.4" r="0.85"/><circle cx="343.2" cy="144.5" r="0.85"/><circle cx="351.1" cy="156.5" r="0.85"/><circle cx="359.5" cy="156.7" r="0.85"/><circle cx="364.1" cy="158.9" r="0.85"/><circle cx="357" cy="201.2" r="0.85"/><circle cx="331.2" cy="195.7" r="0.85"/><circle cx="342.5" cy="193.5" r="0.85"/><circle cx="324.8" cy="196.7" r="0.85"/><circle cx="328.7" cy="196.3" r="0.85"/><circle cx="327.9" cy="194.4" r="0.85"/><circle cx="324.5" cy="195.2" r="0.85"/><circle cx="363.1" cy="193.9" r="0.85"/><circle cx="351.8" cy="199.3" r="0.85"/><circle cx="337.9" cy="194.9" r="0.85"/><circle cx="359.9" cy="198.1" r="0.85"/><circle cx="331.4" cy="195.9" r="0.85"/><circle cx="329" cy="193.6" r="0.85"/><circle cx="373.2" cy="193.4" r="0.85"/><circle cx="370" cy="196.7" r="0.85"/><circle cx="357.5" cy="196.5" r="0.85"/><circle cx="356.2" cy="194.1" r="0.85"/><circle cx="345.5" cy="193.9" r="0.85"/><circle cx="366.9" cy="196.9" r="0.85"/><circle cx="363.2" cy="193.9" r="0.85"/><circle cx="353.2" cy="194" r="0.85"/><circle cx="363.4" cy="196.6" r="0.85"/><circle cx="373.8" cy="196.3" r="0.85"/><circle cx="357.9" cy="196.9" r="0.85"/><circle cx="327.6" cy="195.5" r="0.85"/><circle cx="324.5" cy="194.4" r="0.85"/><circle cx="328.8" cy="200.1" r="0.85"/><circle cx="324.2" cy="199.3" r="0.85"/><circle cx="371.4" cy="194.7" r="0.85"/><circle cx="365.5" cy="193.4" r="0.85"/><circle cx="330" cy="193.3" r="0.85"/><circle cx="326.3" cy="193.3" r="0.85"/><circle cx="365.3" cy="193.5" r="0.85"/><circle cx="353.1" cy="194.1" r="0.85"/><circle cx="329.6" cy="194.6" r="0.85"/><circle cx="332.1" cy="201.5" r="0.85"/><circle cx="342.5" cy="195.5" r="0.85"/><circle cx="351.7" cy="195.7" r="0.85"/><circle cx="347.4" cy="194.1" r="0.85"/><circle cx="329.8" cy="198.5" r="0.85"/><circle cx="332.7" cy="194.8" r="0.85"/><circle cx="364.3" cy="195.4" r="0.85"/><circle cx="371.4" cy="197.3" r="0.85"/><circle cx="349.1" cy="193.6" r="0.85"/><circle cx="353.2" cy="194.9" r="0.85"/><circle cx="367" cy="195.1" r="0.85"/><circle cx="358.4" cy="197.3" r="0.85"/><circle cx="346.9" cy="197.7" r="0.85"/><circle cx="368.9" cy="193.7" r="0.85"/><circle cx="370" cy="198.2" r="0.85"/><circle cx="366.7" cy="194.3" r="0.85"/><circle cx="335.7" cy="193.7" r="0.85"/><circle cx="341.8" cy="197.9" r="0.85"/><circle cx="341.4" cy="193.3" r="0.85"/><circle cx="338.4" cy="193.5" r="0.85"/><circle cx="354.7" cy="196.8" r="0.85"/><circle cx="370.3" cy="193.5" r="0.85"/><circle cx="342.3" cy="193.6" r="0.85"/><circle cx="369.5" cy="197.6" r="0.85"/><circle cx="349.5" cy="200.3" r="0.85"/><circle cx="349.5" cy="196.9" r="0.85"/><circle cx="347.8" cy="194.4" r="0.85"/><circle cx="373.8" cy="197.7" r="0.85"/><circle cx="353.2" cy="198.1" r="0.85"/><circle cx="356.1" cy="197.2" r="0.85"/><circle cx="326.2" cy="193.6" r="0.85"/><circle cx="328.4" cy="195.6" r="0.85"/><circle cx="359.7" cy="193.7" r="0.85"/><circle cx="348.7" cy="193.6" r="0.85"/><circle cx="358.1" cy="196.9" r="0.85"/><circle cx="327.2" cy="201.7" r="0.85"/><circle cx="356.9" cy="193.6" r="0.85"/><circle cx="340.8" cy="193.7" r="0.85"/><circle cx="360.1" cy="199.1" r="0.85"/><circle cx="331.8" cy="193.8" r="0.85"/><circle cx="355.1" cy="198" r="0.85"/><circle cx="360.7" cy="194.8" r="0.85"/><circle cx="328.5" cy="195.6" r="0.85"/><circle cx="346.2" cy="197.2" r="0.85"/><circle cx="352.1" cy="196.5" r="0.85"/><circle cx="372.6" cy="145.2" r="0.85"/><circle cx="369.6" cy="155.2" r="0.85"/><circle cx="322.9" cy="127.9" r="0.85"/><circle cx="324.3" cy="150.9" r="0.85"/><circle cx="325.9" cy="155.2" r="0.85"/><circle cx="359.8" cy="152.7" r="0.85"/><circle cx="354.8" cy="158.4" r="0.85"/><circle cx="365.7" cy="153" r="0.85"/><circle cx="365.5" cy="157.6" r="0.85"/><circle cx="357" cy="150.5" r="0.85"/><circle cx="343.5" cy="159.7" r="0.85"/><circle cx="350.1" cy="132.7" r="0.85"/><circle cx="328.1" cy="151.1" r="0.85"/><circle cx="323.4" cy="107.6" r="0.85"/><circle cx="357.6" cy="150.2" r="0.85"/><circle cx="326.4" cy="158.1" r="0.85"/><circle cx="359" cy="136.3" r="0.85"/><circle cx="373.5" cy="130.3" r="0.85"/><circle cx="345.3" cy="155.6" r="0.85"/><circle cx="350.6" cy="153.6" r="0.85"/><circle cx="350.7" cy="127.7" r="0.85"/><circle cx="346" cy="100.4" r="0.85"/><circle cx="359.7" cy="159.3" r="0.85"/><circle cx="361.1" cy="143.7" r="0.85"/><circle cx="354.7" cy="160" r="0.85"/><circle cx="367.9" cy="149.7" r="0.85"/><circle cx="350.3" cy="157.2" r="0.85"/><circle cx="324.6" cy="159.8" r="0.85"/><circle cx="333.6" cy="154.6" r="0.85"/><circle cx="330.7" cy="159.1" r="0.85"/><circle cx="360.1" cy="141.8" r="0.85"/><circle cx="368" cy="156.3" r="0.85"/><circle cx="360.2" cy="146.5" r="0.85"/><circle cx="327.4" cy="128.8" r="0.85"/><circle cx="341.1" cy="156.9" r="0.85"/><circle cx="332.2" cy="121.3" r="0.85"/><circle cx="334.1" cy="152.7" r="0.85"/><circle cx="350.9" cy="153.3" r="0.85"/><circle cx="356.5" cy="158.6" r="0.85"/><circle cx="344.9" cy="146.8" r="0.85"/><circle cx="354.6" cy="145.9" r="0.85"/><circle cx="336.6" cy="144.8" r="0.85"/><circle cx="372.7" cy="150.1" r="0.85"/><circle cx="355.8" cy="132.8" r="0.85"/><circle cx="335.7" cy="155.4" r="0.85"/><circle cx="372.6" cy="154.6" r="0.85"/><circle cx="344.7" cy="153" r="0.85"/><circle cx="373.7" cy="148.2" r="0.85"/><circle cx="368.8" cy="157.3" r="0.85"/><circle cx="337" cy="144.3" r="0.85"/><circle cx="339.1" cy="143.7" r="0.85"/><circle cx="348.8" cy="158.8" r="0.85"/><circle cx="328.5" cy="151.3" r="0.85"/><circle cx="350.2" cy="157.1" r="0.85"/><circle cx="336.3" cy="160" r="0.85"/><circle cx="336.4" cy="154.5" r="0.85"/><circle cx="342.7" cy="146.5" r="0.85"/><circle cx="366.5" cy="141" r="0.85"/><circle cx="360.8" cy="155" r="0.85"/><circle cx="348.2" cy="140.5" r="0.85"/><circle cx="368.7" cy="155.9" r="0.85"/><circle cx="323.6" cy="159.2" r="0.85"/><circle cx="349.2" cy="129.1" r="0.85"/><circle cx="330.7" cy="137" r="0.85"/><circle cx="355.7" cy="130.1" r="0.85"/><circle cx="369" cy="158.3" r="0.85"/><circle cx="363.5" cy="157.8" r="0.85"/><circle cx="328.9" cy="152.4" r="0.85"/><circle cx="347.9" cy="158.9" r="0.85"/><circle cx="336.9" cy="157.1" r="0.85"/><circle cx="329.7" cy="158.4" r="0.85"/><circle cx="324" cy="156.3" r="0.85"/><circle cx="339.6" cy="151.8" r="0.85"/><circle cx="358.4" cy="145.8" r="0.85"/><circle cx="347.8" cy="154.2" r="0.85"/><circle cx="354.3" cy="156.8" r="0.85"/><circle cx="331.9" cy="158.2" r="0.85"/><circle cx="357.1" cy="157.8" r="0.85"/><circle cx="334.2" cy="153.5" r="0.85"/><circle cx="351.7" cy="144.4" r="0.85"/><circle cx="353.2" cy="146.4" r="0.85"/><circle cx="332.7" cy="123.4" r="0.85"/><circle cx="360.6" cy="152.2" r="0.85"/><circle cx="343.1" cy="147.1" r="0.85"/><circle cx="328.9" cy="144.5" r="0.85"/><circle cx="369.1" cy="153.2" r="0.85"/><circle cx="348.4" cy="155.6" r="0.85"/><circle cx="369.5" cy="152.9" r="0.85"/><circle cx="341.3" cy="141.3" r="0.85"/><circle cx="341.9" cy="124.7" r="0.85"/><circle cx="343.9" cy="146.7" r="0.85"/><circle cx="338.4" cy="146.6" r="0.85"/><circle cx="347" cy="158.4" r="0.85"/><circle cx="368.4" cy="157.4" r="0.85"/><circle cx="352.3" cy="143" r="0.85"/><circle cx="346.8" cy="154" r="0.85"/><circle cx="346.1" cy="159.8" r="0.85"/><circle cx="368.2" cy="146" r="0.85"/><circle cx="347.5" cy="144.8" r="0.85"/><circle cx="355.6" cy="133.4" r="0.85"/><circle cx="372.9" cy="149.1" r="0.85"/><circle cx="340.8" cy="153.2" r="0.85"/><circle cx="369.5" cy="150.2" r="0.85"/><circle cx="326.4" cy="146.7" r="0.85"/><circle cx="328.7" cy="153.6" r="0.85"/><circle cx="356.2" cy="145.8" r="0.85"/><circle cx="350.3" cy="133.5" r="0.85"/><circle cx="354" cy="107.3" r="0.85"/><circle cx="364.4" cy="155.4" r="0.85"/><circle cx="362.9" cy="153.3" r="0.85"/><circle cx="371.3" cy="145.5" r="0.85"/><circle cx="344.2" cy="157.1" r="0.85"/><circle cx="366.3" cy="153.5" r="0.85"/><circle cx="323.6" cy="135.6" r="0.85"/><circle cx="323.1" cy="159.3" r="0.85"/><circle cx="324.4" cy="144.5" r="0.85"/><circle cx="351.6" cy="150.1" r="0.85"/><circle cx="370.8" cy="150.5" r="0.85"/><circle cx="333.4" cy="158.2" r="0.85"/><circle cx="325.3" cy="156.2" r="0.85"/><circle cx="372.9" cy="151.9" r="0.85"/><circle cx="341.1" cy="153.1" r="0.85"/><circle cx="341.8" cy="138.9" r="0.85"/><circle cx="355.5" cy="155.1" r="0.85"/><circle cx="332.6" cy="134.6" r="0.85"/><circle cx="351.6" cy="149.6" r="0.85"/><circle cx="333.1" cy="103.7" r="0.85"/><circle cx="349.9" cy="122.4" r="0.85"/><circle cx="357.4" cy="144.7" r="0.85"/><circle cx="324.1" cy="123.2" r="0.85"/><circle cx="366.6" cy="158.8" r="0.85"/><circle cx="327" cy="143.1" r="0.85"/><circle cx="357.1" cy="156.8" r="0.85"/><circle cx="373.6" cy="158.4" r="0.85"/><circle cx="352" cy="150.1" r="0.85"/><circle cx="339.7" cy="143.4" r="0.85"/><circle cx="345.4" cy="138.1" r="0.85"/><circle cx="362.3" cy="159.9" r="0.85"/><circle cx="339.5" cy="148.3" r="0.85"/><circle cx="338" cy="146.2" r="0.85"/><circle cx="324.3" cy="158.3" r="0.85"/><circle cx="349.1" cy="156.4" r="0.85"/><circle cx="333.5" cy="152" r="0.85"/><circle cx="353.3" cy="144.1" r="0.85"/><circle cx="353.5" cy="149.7" r="0.85"/><circle cx="345" cy="129.5" r="0.85"/><circle cx="367.1" cy="125.7" r="0.85"/><circle cx="371.2" cy="143.3" r="0.85"/><circle cx="333" cy="141.9" r="0.85"/><circle cx="337.3" cy="154.6" r="0.85"/><circle cx="343.4" cy="159.5" r="0.85"/><circle cx="345.3" cy="156.7" r="0.85"/><circle cx="334.7" cy="151.5" r="0.85"/><circle cx="361.6" cy="144.2" r="0.85"/><circle cx="339" cy="140.7" r="0.85"/><circle cx="343.6" cy="153.3" r="0.85"/><circle cx="343.8" cy="154.9" r="0.85"/><circle cx="330.7" cy="108.3" r="0.85"/><circle cx="353.4" cy="144" r="0.85"/><circle cx="354.1" cy="149.6" r="0.85"/><circle cx="355.1" cy="159.9" r="0.85"/><circle cx="326.2" cy="148.5" r="0.85"/><circle cx="346.6" cy="159.8" r="0.85"/><circle cx="333.6" cy="154.5" r="0.85"/><circle cx="372.4" cy="132.8" r="0.85"/><circle cx="324.9" cy="152.6" r="0.85"/><circle cx="340.8" cy="157.8" r="0.85"/><circle cx="337.7" cy="122.6" r="0.85"/><circle cx="336.7" cy="137.2" r="0.85"/><circle cx="329.5" cy="145" r="0.85"/><circle cx="327.2" cy="144.6" r="0.85"/><circle cx="353.5" cy="147" r="0.85"/><circle cx="369.6" cy="155.8" r="0.85"/><circle cx="354.8" cy="156.5" r="0.85"/><circle cx="326.3" cy="159.6" r="0.85"/><circle cx="340.9" cy="154.3" r="0.85"/><circle cx="333.1" cy="130.9" r="0.85"/><circle cx="361.5" cy="152.8" r="0.85"/><circle cx="351.7" cy="133.4" r="0.85"/><circle cx="325.8" cy="144" r="0.85"/><circle cx="366.5" cy="146" r="0.85"/><circle cx="349.7" cy="155.7" r="0.85"/><circle cx="331.4" cy="157.1" r="0.85"/><circle cx="341.1" cy="155" r="0.85"/><circle cx="362.8" cy="157.4" r="0.85"/><circle cx="329.3" cy="136" r="0.85"/><circle cx="346" cy="158.2" r="0.85"/><circle cx="364.6" cy="159.4" r="0.85"/><circle cx="341.9" cy="152.2" r="0.85"/><circle cx="349.4" cy="155.9" r="0.85"/><circle cx="370.4" cy="147" r="0.85"/><circle cx="339.6" cy="144.7" r="0.85"/><circle cx="342.3" cy="147.7" r="0.85"/><circle cx="353.4" cy="155.7" r="0.85"/><circle cx="367.5" cy="158.5" r="0.85"/><circle cx="370.7" cy="151.7" r="0.85"/><circle cx="348.9" cy="158.3" r="0.85"/><circle cx="349" cy="153.9" r="0.85"/><circle cx="354.2" cy="142.6" r="0.85"/><circle cx="328" cy="158.9" r="0.85"/><circle cx="368.8" cy="156.6" r="0.85"/><circle cx="357.6" cy="140.3" r="0.85"/><circle cx="362.9" cy="159.9" r="0.85"/><circle cx="355.5" cy="132.3" r="0.85"/><circle cx="324.6" cy="159.9" r="0.85"/><circle cx="368.2" cy="142.2" r="0.85"/><circle cx="359" cy="138" r="0.85"/><circle cx="354.1" cy="156.6" r="0.85"/><circle cx="331" cy="159.8" r="0.85"/><circle cx="356.6" cy="143.6" r="0.85"/><circle cx="373.7" cy="155.8" r="0.85"/><circle cx="330.3" cy="152.9" r="0.85"/><circle cx="371.1" cy="155.9" r="0.85"/><circle cx="368" cy="144.8" r="0.85"/><circle cx="362.2" cy="158.2" r="0.85"/><circle cx="364.1" cy="152.3" r="0.85"/><circle cx="360.8" cy="159.3" r="0.85"/><circle cx="338" cy="147.5" r="0.85"/><circle cx="336.8" cy="148.4" r="0.85"/><circle cx="328.3" cy="155.5" r="0.85"/><circle cx="355.3" cy="154" r="0.85"/><circle cx="373" cy="153.2" r="0.85"/><circle cx="338.4" cy="152.3" r="0.85"/><circle cx="355.5" cy="154.3" r="0.85"/><circle cx="373" cy="156.7" r="0.85"/><circle cx="352.9" cy="129.2" r="0.85"/><circle cx="336.6" cy="156" r="0.85"/><circle cx="349" cy="131.6" r="0.85"/><circle cx="366.4" cy="130.9" r="0.85"/><circle cx="359.4" cy="158.8" r="0.85"/><circle cx="321.9" cy="191.3" r="0.85"/><circle cx="321.9" cy="177.2" r="0.85"/><circle cx="374.4" cy="166.6" r="0.85"/><circle cx="374.4" cy="189" r="0.85"/><circle cx="322.4" cy="163.6" r="0.85"/><circle cx="322.5" cy="183.5" r="0.85"/><circle cx="322.2" cy="162.4" r="0.85"/><circle cx="375" cy="182.4" r="0.85"/><circle cx="374.7" cy="190.9" r="0.85"/><circle cx="322.4" cy="174.8" r="0.85"/><circle cx="374.6" cy="191.1" r="0.85"/><circle cx="375" cy="181.8" r="0.85"/><circle cx="375" cy="184.4" r="0.85"/><circle cx="322.7" cy="192.9" r="0.85"/><circle cx="322.1" cy="169.9" r="0.85"/><circle cx="322.5" cy="164.4" r="0.85"/><circle cx="418.3" cy="171" r="0.85"/><circle cx="425.1" cy="169.7" r="0.85"/><circle cx="421.5" cy="169.2" r="0.85"/><circle cx="411.6" cy="170" r="0.85"/><circle cx="422.3" cy="170.2" r="0.85"/><circle cx="417" cy="169.4" r="0.85"/><circle cx="435.7" cy="170.4" r="0.85"/><circle cx="425" cy="170.9" r="0.85"/><circle cx="426.4" cy="170.1" r="0.85"/><circle cx="437.5" cy="169.5" r="0.85"/><circle cx="410.5" cy="170.6" r="0.85"/><circle cx="425.1" cy="171" r="0.85"/><circle cx="417.2" cy="170.8" r="0.85"/><circle cx="404.1" cy="170.9" r="0.85"/><circle cx="428.9" cy="170.9" r="0.85"/><circle cx="409.1" cy="170.6" r="0.85"/><circle cx="432.9" cy="170.9" r="0.85"/><circle cx="416.8" cy="170.3" r="0.85"/><circle cx="433.3" cy="169.5" r="0.85"/><circle cx="432.6" cy="170.7" r="0.85"/><circle cx="415.5" cy="170.6" r="0.85"/><circle cx="433.4" cy="168.4" r="0.85"/><circle cx="405.4" cy="170.8" r="0.85"/><circle cx="408.5" cy="170.8" r="0.85"/><circle cx="418.1" cy="170.2" r="0.85"/><circle cx="409.6" cy="171" r="0.85"/><circle cx="415.6" cy="170.6" r="0.85"/><circle cx="421.2" cy="168.5" r="0.85"/><circle cx="426" cy="170.4" r="0.85"/><circle cx="423.2" cy="170" r="0.85"/><circle cx="401.7" cy="187.3" r="0.85"/><circle cx="429.4" cy="187.1" r="0.85"/><circle cx="430.1" cy="185.7" r="0.85"/><circle cx="414.8" cy="185.4" r="0.85"/><circle cx="423.8" cy="185.4" r="0.85"/><circle cx="402.2" cy="185.5" r="0.85"/><circle cx="405.8" cy="185.7" r="0.85"/><circle cx="401.6" cy="185.3" r="0.85"/><circle cx="405.4" cy="185.4" r="0.85"/><circle cx="413.5" cy="185.3" r="0.85"/><circle cx="433" cy="186.1" r="0.85"/><circle cx="405.3" cy="185.6" r="0.85"/><circle cx="412.9" cy="185.7" r="0.85"/><circle cx="404.3" cy="186.9" r="0.85"/><circle cx="437.5" cy="185.9" r="0.85"/><circle cx="418.1" cy="185.4" r="0.85"/><circle cx="403.5" cy="185.7" r="0.85"/><circle cx="409.7" cy="186.8" r="0.85"/><circle cx="405.8" cy="185.3" r="0.85"/><circle cx="435.9" cy="186" r="0.85"/><circle cx="405.2" cy="186" r="0.85"/><circle cx="400.6" cy="186" r="0.85"/><circle cx="437" cy="187" r="0.85"/><circle cx="426.2" cy="185.6" r="0.85"/><circle cx="413.6" cy="185.5" r="0.85"/><circle cx="429.1" cy="186" r="0.85"/><circle cx="429.4" cy="185.7" r="0.85"/><circle cx="408.1" cy="186.7" r="0.85"/><circle cx="437.2" cy="186.9" r="0.85"/><circle cx="430.4" cy="186.8" r="0.85"/><circle cx="399.1" cy="181.9" r="0.85"/><circle cx="398.7" cy="175.9" r="0.85"/><circle cx="399.3" cy="174.7" r="0.85"/><circle cx="399.4" cy="185.3" r="0.85"/><circle cx="438.2" cy="185.8" r="0.85"/><circle cx="398.9" cy="173.8" r="0.85"/><circle cx="438.6" cy="173.5" r="0.85"/><circle cx="399.2" cy="183.5" r="0.85"/><circle cx="399.2" cy="182.9" r="0.85"/><circle cx="438.5" cy="184.6" r="0.85"/><circle cx="481.5" cy="170.1" r="0.85"/><circle cx="461.6" cy="170.3" r="0.85"/><circle cx="465.9" cy="170" r="0.85"/><circle cx="469.4" cy="169.9" r="0.85"/><circle cx="487.4" cy="168.4" r="0.85"/><circle cx="458.6" cy="169.9" r="0.85"/><circle cx="458.2" cy="169.3" r="0.85"/><circle cx="493.5" cy="170.1" r="0.85"/><circle cx="484.4" cy="170" r="0.85"/><circle cx="451.5" cy="169" r="0.85"/><circle cx="465.8" cy="170.1" r="0.85"/><circle cx="469.9" cy="170.1" r="0.85"/><circle cx="468.8" cy="169.8" r="0.85"/><circle cx="469.2" cy="169.5" r="0.85"/><circle cx="463.5" cy="170.2" r="0.85"/><circle cx="454.6" cy="170.2" r="0.85"/><circle cx="473.7" cy="169.9" r="0.85"/><circle cx="486.2" cy="169.7" r="0.85"/><circle cx="481.8" cy="167.3" r="0.85"/><circle cx="453.7" cy="170.3" r="0.85"/><circle cx="457" cy="169.9" r="0.85"/><circle cx="476" cy="169.1" r="0.85"/><circle cx="466.3" cy="167.6" r="0.85"/><circle cx="451" cy="168.7" r="0.85"/><circle cx="460.1" cy="168.5" r="0.85"/><circle cx="452.3" cy="167.6" r="0.85"/><circle cx="484.1" cy="167" r="0.85"/><circle cx="476.2" cy="170.1" r="0.85"/><circle cx="493.3" cy="169.8" r="0.85"/><circle cx="454.5" cy="169.5" r="0.85"/><circle cx="472.6" cy="169.7" r="0.85"/><circle cx="457.7" cy="170.2" r="0.85"/><circle cx="476.3" cy="169.8" r="0.85"/><circle cx="456.4" cy="169.8" r="0.85"/><circle cx="482.6" cy="169.2" r="0.85"/><circle cx="471.5" cy="185.3" r="0.85"/><circle cx="466.7" cy="185.1" r="0.85"/><circle cx="459.5" cy="185.4" r="0.85"/><circle cx="455.6" cy="186" r="0.85"/><circle cx="481.9" cy="185.7" r="0.85"/><circle cx="451.9" cy="185.3" r="0.85"/><circle cx="469.8" cy="185" r="0.85"/><circle cx="493.2" cy="186.1" r="0.85"/><circle cx="472.9" cy="186" r="0.85"/><circle cx="459.7" cy="185.1" r="0.85"/><circle cx="473.9" cy="186.1" r="0.85"/><circle cx="479.2" cy="184.9" r="0.85"/><circle cx="477.7" cy="186.9" r="0.85"/><circle cx="483.4" cy="187.1" r="0.85"/><circle cx="493.8" cy="185.1" r="0.85"/><circle cx="463.9" cy="185.6" r="0.85"/><circle cx="493.6" cy="185.3" r="0.85"/><circle cx="492" cy="186.5" r="0.85"/><circle cx="473.5" cy="185.8" r="0.85"/><circle cx="492.7" cy="186.2" r="0.85"/><circle cx="463.8" cy="186.5" r="0.85"/><circle cx="459.5" cy="185.3" r="0.85"/><circle cx="492.8" cy="186.5" r="0.85"/><circle cx="464.5" cy="185.2" r="0.85"/><circle cx="477.7" cy="186.5" r="0.85"/><circle cx="480.8" cy="187.2" r="0.85"/><circle cx="482.7" cy="186.4" r="0.85"/><circle cx="477.3" cy="185.3" r="0.85"/><circle cx="469.6" cy="185.5" r="0.85"/><circle cx="474" cy="186.5" r="0.85"/><circle cx="462.6" cy="185" r="0.85"/><circle cx="482.9" cy="185.2" r="0.85"/><circle cx="469.2" cy="185" r="0.85"/><circle cx="487.1" cy="185.2" r="0.85"/><circle cx="463.6" cy="186.3" r="0.85"/><circle cx="450.7" cy="177.7" r="0.85"/><circle cx="450.8" cy="176.2" r="0.85"/><circle cx="494.9" cy="182.2" r="0.85"/><circle cx="450.7" cy="171" r="0.85"/><circle cx="494.8" cy="184.1" r="0.85"/><circle cx="56.9" cy="57.2" r="0.85"/><circle cx="126.5" cy="14" r="0.85"/><circle cx="126.7" cy="126.1" r="0.85"/><circle cx="170.5" cy="118.5" r="0.85"/><circle cx="175.2" cy="117.8" r="0.85"/><circle cx="207.9" cy="110.5" r="0.85"/><circle cx="233.5" cy="113.6" r="0.85"/><circle cx="211.3" cy="117.5" r="0.85"/><circle cx="246" cy="119.8" r="0.85"/><circle cx="112.1" cy="144.3" r="0.85"/><circle cx="125" cy="146.4" r="0.85"/><circle cx="111.4" cy="207.1" r="0.85"/><circle cx="58.5" cy="202" r="0.85"/><circle cx="293.6" cy="54.9" r="0.85"/><circle cx="298.8" cy="55.2" r="0.85"/><circle cx="299.5" cy="83.5" r="0.85"/><circle cx="295.1" cy="89.4" r="0.85"/><circle cx="323" cy="71.4" r="0.85"/><circle cx="346.8" cy="72.5" r="0.85"/><circle cx="348.3" cy="78" r="0.85"/><circle cx="323" cy="96" r="0.85"/><circle cx="323.7" cy="104.4" r="0.85"/><circle cx="365.9" cy="98.2" r="0.85"/><circle cx="297.3" cy="103.7" r="0.85"/><circle cx="301.7" cy="108" r="0.85"/><circle cx="304.6" cy="108" r="0.85"/><circle cx="345.7" cy="103.7" r="0.85"/><circle cx="344" cy="108" r="0.85"/><circle cx="306.4" cy="207.5" r="0.85"/><circle cx="337.8" cy="204.5" r="0.85"/><circle cx="355.4" cy="204.5" r="0.85"/><circle cx="328" cy="204.5" r="0.85"/></g>
<g><line x1="49.5" y1="217.5" x2="49.5" y2="4.5" stroke="#e3943c" stroke-width="1.1"/><line x1="146.7" y1="217.5" x2="146.7" y2="4.5" stroke="#e3943c" stroke-width="1.1"/><line x1="282.8" y1="217.5" x2="282.8" y2="4.5" stroke="#e3943c" stroke-width="1.1"/><line x1="366.8" y1="217.5" x2="366.8" y2="4.5" stroke="#e3943c" stroke-width="1.1"/><line x1="411.5" y1="217.5" x2="411.5" y2="4.5" stroke="#e3943c" stroke-width="1.1"/><line x1="98.5" y1="217.5" x2="98.5" y2="4.5" stroke="#ec9f4a" stroke-width="1.15" stroke-dasharray="6 1.5 1 1.5" stroke-dashoffset="2.8"/><line x1="195" y1="217.5" x2="195" y2="4.5" stroke="#ec9f4a" stroke-width="1.15" stroke-dasharray="6 1.5 1 1.5" stroke-dashoffset="2.8"/><line x1="324.5" y1="217.5" x2="324.5" y2="4.5" stroke="#ec9f4a" stroke-width="1.15" stroke-dasharray="6 1.5 1 1.5" stroke-dashoffset="2.8"/><line x1="462.5" y1="217.5" x2="462.5" y2="4.5" stroke="#ec9f4a" stroke-width="1.15" stroke-dasharray="6 1.5 1 1.5" stroke-dashoffset="2.8"/><line x1="243.1" y1="217.5" x2="243.1" y2="4.5" stroke="#d84a4a" stroke-width="1.45"/></g>
<g stroke="#959595" stroke-width="1"><line x1="39.5" y1="4.5" x2="257.5" y2="4.5"/><line x1="39.5" y1="217.5" x2="257.5" y2="217.5"/><line x1="277.3" y1="4.5" x2="376.4" y2="4.5"/><line x1="277.3" y1="217.5" x2="376.4" y2="217.5"/><line x1="396" y1="4.5" x2="495.5" y2="4.5"/><line x1="396" y1="217.5" x2="495.5" y2="217.5"/><line x1="39.5" y1="4.5" x2="39.5" y2="217.5"/><line x1="495.5" y1="4.5" x2="495.5" y2="217.5"/></g>
<g stroke="#555" stroke-width="0.8"><line x1="37.5" y1="177.2" x2="39.5" y2="177.2"/><line x1="495.5" y1="177.2" x2="497.5" y2="177.2"/><line x1="37.5" y1="136.6" x2="39.5" y2="136.6"/><line x1="495.5" y1="136.6" x2="497.5" y2="136.6"/><line x1="37.5" y1="96" x2="39.5" y2="96"/><line x1="495.5" y1="96" x2="497.5" y2="96"/><line x1="37.5" y1="55.4" x2="39.5" y2="55.4"/><line x1="495.5" y1="55.4" x2="497.5" y2="55.4"/><line x1="37.5" y1="14.8" x2="39.5" y2="14.8"/><line x1="495.5" y1="14.8" x2="497.5" y2="14.8"/><line x1="64.3" y1="217.5" x2="64.3" y2="219.5"/><line x1="102.3" y1="217.5" x2="102.3" y2="219.5"/><line x1="140.3" y1="217.5" x2="140.3" y2="219.5"/><line x1="178.3" y1="217.5" x2="178.3" y2="219.5"/><line x1="216.3" y1="217.5" x2="216.3" y2="219.5"/><line x1="254.3" y1="217.5" x2="254.3" y2="219.5"/><line x1="300.6" y1="217.5" x2="300.6" y2="219.5"/><line x1="333.2" y1="217.5" x2="333.2" y2="219.5"/><line x1="365.8" y1="217.5" x2="365.8" y2="219.5"/><line x1="404.4" y1="217.5" x2="404.4" y2="219.5"/><line x1="443.8" y1="217.5" x2="443.8" y2="219.5"/><line x1="483.3" y1="217.5" x2="483.3" y2="219.5"/></g>
<g stroke="#222" stroke-width="1.1"><line x1="254.2" y1="7.9" x2="261" y2="1.2"/><line x1="275.5" y1="7.9" x2="279.1" y2="1.3"/><line x1="374.9" y1="7.9" x2="377.9" y2="1.2"/><line x1="394.4" y1="7.9" x2="397.6" y2="1.3"/><line x1="254.2" y1="220.6" x2="260.9" y2="214"/><line x1="275.5" y1="220.6" x2="279" y2="214.1"/><line x1="374.9" y1="220.6" x2="378.2" y2="214"/><line x1="394.4" y1="220.6" x2="397.7" y2="214.1"/></g>
<g font-family="DejaVu Sans, Liberation Sans, sans-serif" font-size="9.1" fill="#111" stroke="#111" stroke-width="0.2"><text x="64.3" y="227.5" text-anchor="middle">2450</text><text x="102.3" y="227.5" text-anchor="middle">2460</text><text x="140.4" y="227.5" text-anchor="middle">2470</text><text x="178.4" y="227.5" text-anchor="middle">2480</text><text x="216.4" y="227.5" text-anchor="middle">2490</text><text x="254.4" y="227.5" text-anchor="middle">2500</text><text x="300.7" y="227.5" text-anchor="middle">2860</text><text x="333.3" y="227.5" text-anchor="middle">2870</text><text x="365.9" y="227.5" text-anchor="middle">2880</text><text x="404.4" y="227.5" text-anchor="middle">3210</text><text x="443.9" y="227.5" text-anchor="middle">3220</text><text x="483.3" y="227.5" text-anchor="middle">3230</text><text x="36.1" y="180.5" text-anchor="end">1.00</text><text x="499.1" y="180.5">1.00</text><text x="36.1" y="139.9" text-anchor="end">1.02</text><text x="499.1" y="139.9">1.02</text><text x="36.1" y="99.3" text-anchor="end">1.04</text><text x="499.1" y="99.3">1.04</text><text x="36.1" y="58.7" text-anchor="end">1.06</text><text x="499.1" y="58.7">1.06</text><text x="36.1" y="18.1" text-anchor="end">1.08</text><text x="499.1" y="18.1">1.08</text></g>
<g font-family="Liberation Serif, Times New Roman, serif" font-weight="bold" font-size="12.55" fill="#000">
<text x="157.2" y="17.35">Sector 42 &amp; 43</text>
<text x="299.3" y="17.0">Sector 57</text>
<text x="422.3" y="17.2">Sector 70</text>
</g>
<g>
<rect x="44.5" y="9.2" width="72.7" height="43" rx="2" ry="2" fill="#fff" fill-opacity="0.8" stroke="#d0d0d0" stroke-width="1"/>
<line x1="47.1" y1="16.2" x2="66.1" y2="16.2" stroke="#d84a4a" stroke-width="1.6"/>
<line x1="47.1" y1="30.0" x2="66.1" y2="30.0" stroke="#e6ad6e" stroke-width="1.9"/>
<line x1="47.6" y1="43.3" x2="64.5" y2="43.3" stroke="#e9b77c" stroke-width="1.9" stroke-dasharray="6 1.5 1 1.5"/>
<g font-family="DejaVu Sans, Liberation Sans, sans-serif" font-size="8.6" fill="#111" stroke="#111" stroke-width="0.12">
<text x="71.9" y="19.2">T0</text>
<text x="72.3" y="32.75">P<tspan font-size="6.1" dx="0.2" dy="1.8">b</tspan><tspan dx="0.5" dy="-1.8">=25.5d</tspan></text>
<text x="72.3" y="46.3">P<tspan font-size="6.1" dx="0.2" dy="1.8">b</tspan><tspan dx="0.5" dy="-1.8">=12.7d</tspan></text>
</g>
</g>
<text x="260.2" y="242.4" text-anchor="middle" font-family="DejaVu Sans, Liberation Sans, sans-serif" font-size="11.65" fill="#111" stroke="#111" stroke-width="0.15">Time (BJD - 2457000 Days)</text>
<text transform="translate(10.7,111.5) rotate(-90)" text-anchor="middle" font-family="DejaVu Sans, Liberation Sans, sans-serif" font-size="13.1" fill="#111" stroke="#111" stroke-width="0.15">Relative Flux</text>
</svg></body></html>
